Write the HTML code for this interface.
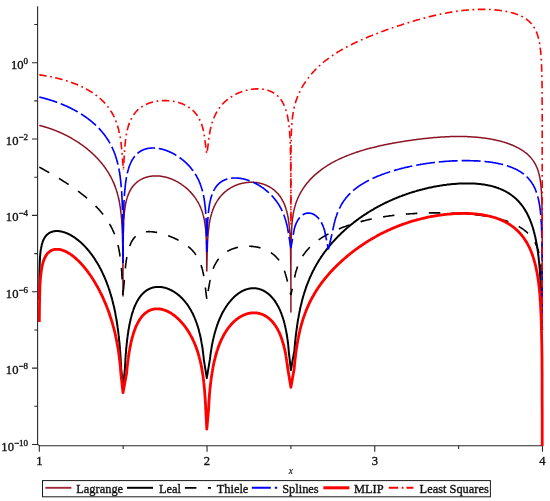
<!DOCTYPE html>
<html><head><meta charset="utf-8"><title>Error plot</title>
<style>html,body{margin:0;padding:0;background:#fff;}body{width:550px;height:501px;overflow:hidden;}svg{display:block;}</style>
</head><body>
<svg width="550" height="501" viewBox="0 0 550 501">
<rect width="550" height="501" fill="#fff"/>
<path d="M37.6 6.3V444.50L39.30 445.7H542.79" fill="none" stroke="#2a2a2a" stroke-width="1.1"/>
<path d="M32.00 444.50H37.6M34.30 406.32H37.6M32.00 368.14H37.6M34.30 329.96H37.6M32.00 291.78H37.6M34.30 253.60H37.6M32.00 215.42H37.6M34.30 177.24H37.6M32.00 139.06H37.6M34.30 100.88H37.6M32.00 62.70H37.6M34.30 24.52H37.6M39.30 445.7v6M207.03 445.7v6M374.76 445.7v6M542.49 445.7v6M123.16 445.7v3.2M290.89 445.7v3.2M458.62 445.7v3.2" fill="none" stroke="#2a2a2a" stroke-width="1.1"/>
<text x="28" y="450.5" text-anchor="end" font-family="Liberation Serif, Times New Roman, serif" stroke="#111" stroke-width="0.35" font-size="12.6" fill="#111">10<tspan font-size="9" dy="-5">−10</tspan></text>
<text x="28" y="374.1" text-anchor="end" font-family="Liberation Serif, Times New Roman, serif" stroke="#111" stroke-width="0.35" font-size="12.6" fill="#111">10<tspan font-size="9" dy="-5">−8</tspan></text>
<text x="28" y="297.8" text-anchor="end" font-family="Liberation Serif, Times New Roman, serif" stroke="#111" stroke-width="0.35" font-size="12.6" fill="#111">10<tspan font-size="9" dy="-5">−6</tspan></text>
<text x="28" y="221.4" text-anchor="end" font-family="Liberation Serif, Times New Roman, serif" stroke="#111" stroke-width="0.35" font-size="12.6" fill="#111">10<tspan font-size="9" dy="-5">−4</tspan></text>
<text x="28" y="145.1" text-anchor="end" font-family="Liberation Serif, Times New Roman, serif" stroke="#111" stroke-width="0.35" font-size="12.6" fill="#111">10<tspan font-size="9" dy="-5">−2</tspan></text>
<text x="28" y="68.7" text-anchor="end" font-family="Liberation Serif, Times New Roman, serif" stroke="#111" stroke-width="0.35" font-size="12.6" fill="#111">10<tspan font-size="9" dy="-5">0</tspan></text>
<text x="39.3" y="465" text-anchor="middle" font-family="Liberation Serif, Times New Roman, serif" stroke="#111" stroke-width="0.35" font-size="12.6" fill="#111">1</text>
<text x="207.0" y="465" text-anchor="middle" font-family="Liberation Serif, Times New Roman, serif" stroke="#111" stroke-width="0.35" font-size="12.6" fill="#111">2</text>
<text x="374.8" y="465" text-anchor="middle" font-family="Liberation Serif, Times New Roman, serif" stroke="#111" stroke-width="0.35" font-size="12.6" fill="#111">3</text>
<text x="542.5" y="465" text-anchor="middle" font-family="Liberation Serif, Times New Roman, serif" stroke="#111" stroke-width="0.35" font-size="12.6" fill="#111">4</text>
<text x="290.9" y="474.2" text-anchor="middle" font-family="Liberation Serif, Times New Roman, serif" stroke="#111" stroke-width="0.15" font-size="9.5" font-style="italic" fill="#111">x</text>
<path d="M39.3 125.4L39.5 125.4L39.6 125.5L39.8 125.5L40.0 125.5L40.2 125.6L40.4 125.6L40.5 125.7L40.7 125.7L40.9 125.8L41.1 125.8L41.3 125.9L41.5 125.9L41.7 126.0L41.9 126.1L42.1 126.1L42.4 126.2L42.6 126.3L42.9 126.3L43.2 126.4L43.4 126.5L43.7 126.6L44.0 126.7L44.2 126.7L44.3 126.7L44.5 126.8L44.7 126.8L44.8 126.9L45.0 126.9L45.2 127.0L45.3 127.0L45.5 127.1L45.7 127.1L45.8 127.2L46.0 127.2L46.2 127.3L46.4 127.4L46.6 127.4L46.8 127.5L46.9 127.5L47.1 127.6L47.3 127.7L47.5 127.7L47.7 127.8L47.9 127.8L48.1 127.9L48.3 128.0L48.5 128.0L48.7 128.1L49.0 128.2L49.2 128.3L49.4 128.3L49.6 128.4L49.8 128.5L50.0 128.6L50.2 128.6L50.5 128.7L50.7 128.8L50.9 128.9L51.2 128.9L51.4 129.0L51.6 129.1L51.9 129.2L52.1 129.3L52.3 129.4L52.6 129.5L52.8 129.5L53.0 129.6L53.3 129.7L53.5 129.8L53.8 129.9L54.0 130.0L54.3 130.1L54.5 130.2L54.8 130.3L55.1 130.4L55.3 130.5L55.6 130.6L55.8 130.7L56.1 130.8L56.4 130.9L56.6 131.0L56.9 131.1L57.2 131.3L57.4 131.4L57.7 131.5L58.0 131.6L58.3 131.7L58.5 131.8L58.8 131.9L59.1 132.1L59.4 132.2L59.7 132.3L59.9 132.4L60.2 132.6L60.5 132.7L60.8 132.8L61.1 132.9L61.4 133.1L61.7 133.2L62.0 133.3L62.3 133.5L62.5 133.6L62.8 133.8L63.1 133.9L63.4 134.0L63.7 134.2L64.0 134.3L64.3 134.5L64.6 134.6L64.9 134.8L65.2 134.9L65.6 135.1L65.9 135.2L66.2 135.4L66.5 135.5L66.8 135.7L67.1 135.9L67.4 136.0L67.7 136.2L68.0 136.3L68.3 136.5L68.7 136.7L69.0 136.9L69.3 137.0L69.6 137.2L69.9 137.4L70.2 137.5L70.6 137.7L70.9 137.9L71.2 138.1L71.5 138.3L71.8 138.4L72.2 138.6L72.5 138.8L72.8 139.0L73.1 139.2L73.5 139.4L73.8 139.6L74.1 139.8L74.4 140.0L74.7 140.2L75.1 140.4L75.4 140.6L75.7 140.8L76.1 141.0L76.4 141.2L76.7 141.4L77.0 141.6L77.4 141.8L77.7 142.0L78.0 142.3L78.4 142.5L78.7 142.7L79.0 142.9L79.3 143.1L79.7 143.4L80.0 143.6L80.3 143.8L80.7 144.0L81.0 144.3L81.3 144.5L81.6 144.7L82.0 145.0L82.3 145.2L82.6 145.4L83.0 145.7L83.3 145.9L83.6 146.2L83.9 146.4L84.3 146.7L84.6 146.9L84.9 147.2L85.3 147.4L85.6 147.7L85.9 147.9L86.2 148.2L86.6 148.4L86.9 148.7L87.2 149.0L87.6 149.2L87.9 149.5L88.2 149.8L88.5 150.0L88.8 150.3L89.2 150.6L89.5 150.9L89.8 151.1L90.1 151.4L90.5 151.7L90.8 152.0L91.1 152.3L91.4 152.6L91.7 152.8L92.1 153.1L92.4 153.4L92.7 153.7L93.0 154.0L93.3 154.3L93.6 154.6L94.0 154.9L94.3 155.2L94.6 155.5L94.9 155.8L95.2 156.1L95.5 156.4L95.8 156.8L96.1 157.1L96.4 157.4L96.7 157.7L97.1 158.0L97.4 158.3L97.7 158.7L98.0 159.0L98.3 159.3L98.6 159.7L98.9 160.0L99.2 160.3L99.5 160.7L99.8 161.0L100.0 161.3L100.3 161.7L100.6 162.0L100.9 162.4L101.2 162.7L101.5 163.1L101.8 163.4L102.1 163.8L102.4 164.1L102.6 164.5L102.9 164.8L103.2 165.2L103.5 165.5L103.8 165.9L104.0 166.3L104.3 166.7L104.6 167.0L104.9 167.4L105.1 167.8L105.4 168.2L105.7 168.5L105.9 168.9L106.2 169.3L106.5 169.7L106.7 170.1L107.0 170.5L107.2 170.9L107.5 171.3L107.8 171.7L108.0 172.1L108.3 172.5L108.5 172.9L108.8 173.3L109.0 173.7L109.3 174.1L109.5 174.6L109.7 175.0L110.0 175.4L110.2 175.8L110.4 176.3L110.7 176.7L110.9 177.1L111.1 177.6L111.4 178.0L111.6 178.5L111.8 178.9L112.1 179.4L112.3 179.8L112.5 180.3L112.7 180.7L112.9 181.2L113.1 181.7L113.3 182.2L113.6 182.6L113.8 183.1L114.0 183.6L114.2 184.1L114.4 184.6L114.6 185.1L114.8 185.6L115.0 186.1L115.2 186.6L115.4 187.1L115.5 187.7L115.7 188.2L115.9 188.7L116.1 189.3L116.3 189.8L116.5 190.4L116.6 190.9L116.8 191.5L117.0 192.1L117.1 192.6L117.3 193.2L117.5 193.8L117.6 194.4L117.8 195.0L118.0 195.6L118.1 196.2L118.3 196.9L118.4 197.5L118.6 198.1L118.7 198.8L118.9 199.5L119.0 200.1L119.1 200.8L119.3 201.5L119.4 202.2L119.5 202.9L119.7 203.6L119.8 204.4L119.9 205.1L120.0 205.9L120.2 206.7L120.3 207.5L120.4 208.3L120.5 209.1L120.6 210.0L120.7 210.8L120.8 211.7L120.9 212.6L121.0 213.5L121.1 214.4L121.2 215.4L121.3 216.4L121.4 217.4L121.5 218.4L121.6 219.5L121.7 220.6L121.8 221.7L121.8 222.9L121.9 224.1L122.0 225.3L122.1 226.6L122.1 228.0L122.2 229.3L122.3 230.8L122.3 232.3L122.4 233.8L122.4 235.4L122.5 237.1L122.5 238.9L122.6 240.8L122.6 242.8L122.7 244.9L122.7 247.1L122.7 249.5L122.8 252.1L122.8 254.9L122.8 257.9L122.9 261.2L122.9 264.8L122.9 268.9L122.9 273.5L123.0 296.0L123.0 277.9L123.0 270.0L123.0 263.9L123.0 259.0L123.1 254.8L123.1 251.1L123.1 247.9L123.1 245.0L123.2 242.4L123.2 240.0L123.2 237.9L123.3 235.8L123.3 234.0L123.3 232.2L123.4 230.5L123.4 229.0L123.5 227.5L123.5 226.1L123.6 224.8L123.6 223.5L123.7 222.3L123.7 221.1L123.8 220.0L123.9 219.0L123.9 217.9L124.0 217.0L124.1 216.0L124.2 215.1L124.2 214.2L124.3 213.3L124.4 212.5L124.5 211.7L124.6 210.9L124.7 210.1L124.8 209.4L124.9 208.7L125.0 208.0L125.1 207.3L125.2 206.6L125.3 206.0L125.4 205.3L125.5 204.7L125.6 204.1L125.7 203.5L125.8 202.9L126.0 202.4L126.1 201.8L126.2 201.3L126.3 200.7L126.5 200.2L126.6 199.7L126.7 199.2L126.9 198.7L127.0 198.2L127.1 197.8L127.3 197.3L127.4 196.9L127.6 196.4L127.7 196.0L127.9 195.6L128.1 195.1L128.2 194.7L128.4 194.3L128.5 193.9L128.7 193.5L128.9 193.1L129.0 192.8L129.2 192.4L129.4 192.0L129.6 191.7L129.7 191.3L129.9 191.0L130.1 190.6L130.3 190.3L130.5 190.0L130.7 189.6L130.8 189.3L131.0 189.0L131.2 188.7L131.4 188.4L131.6 188.1L131.8 187.8L132.0 187.5L132.2 187.2L132.5 186.9L132.7 186.6L132.9 186.4L133.1 186.1L133.3 185.8L133.5 185.6L133.7 185.3L134.0 185.1L134.2 184.8L134.4 184.6L134.6 184.3L134.9 184.1L135.1 183.9L135.3 183.6L135.6 183.4L135.8 183.2L136.0 183.0L136.3 182.8L136.5 182.6L136.8 182.3L137.0 182.1L137.3 181.9L137.5 181.8L137.8 181.6L138.0 181.4L138.3 181.2L138.5 181.0L138.8 180.8L139.0 180.7L139.3 180.5L139.6 180.3L139.8 180.2L140.1 180.0L140.4 179.8L140.6 179.7L140.9 179.5L141.2 179.4L141.4 179.2L141.7 179.1L142.0 179.0L142.3 178.8L142.5 178.7L142.8 178.6L143.1 178.4L143.4 178.3L143.7 178.2L143.9 178.1L144.2 178.0L144.5 177.9L144.8 177.7L145.1 177.6L145.4 177.5L145.7 177.4L146.0 177.3L146.3 177.3L146.6 177.2L146.9 177.1L147.2 177.0L147.5 176.9L147.8 176.8L148.1 176.8L148.4 176.7L148.7 176.6L149.0 176.6L149.3 176.5L149.6 176.4L149.9 176.4L150.2 176.3L150.5 176.3L150.8 176.2L151.1 176.2L151.5 176.2L151.8 176.1L152.1 176.1L152.4 176.1L152.7 176.0L153.0 176.0L153.3 176.0L153.7 176.0L154.0 175.9L154.3 175.9L154.6 175.9L154.9 175.9L155.3 175.9L155.6 175.9L155.9 175.9L156.2 175.9L156.5 175.9L156.9 175.9L157.2 175.9L157.5 175.9L157.8 175.9L158.2 176.0L158.5 176.0L158.8 176.0L159.1 176.0L159.5 176.1L159.8 176.1L160.1 176.1L160.5 176.2L160.8 176.2L161.1 176.3L161.4 176.3L161.8 176.4L162.1 176.4L162.4 176.5L162.8 176.5L163.1 176.6L163.4 176.7L163.7 176.7L164.1 176.8L164.4 176.9L164.7 176.9L165.1 177.0L165.4 177.1L165.7 177.2L166.1 177.3L166.4 177.3L166.7 177.4L167.0 177.5L167.4 177.6L167.7 177.7L168.0 177.8L168.4 177.9L168.7 178.0L169.0 178.1L169.3 178.3L169.7 178.4L170.0 178.5L170.3 178.6L170.7 178.7L171.0 178.9L171.3 179.0L171.6 179.1L172.0 179.2L172.3 179.4L172.6 179.5L172.9 179.7L173.3 179.8L173.6 179.9L173.9 180.1L174.2 180.2L174.5 180.4L174.9 180.5L175.2 180.7L175.5 180.9L175.8 181.0L176.1 181.2L176.5 181.4L176.8 181.5L177.1 181.7L177.4 181.9L177.7 182.0L178.0 182.2L178.3 182.4L178.7 182.6L179.0 182.8L179.3 183.0L179.6 183.2L179.9 183.3L180.2 183.5L180.5 183.7L180.8 183.9L181.1 184.1L181.4 184.3L181.7 184.6L182.0 184.8L182.3 185.0L182.6 185.2L182.9 185.4L183.2 185.6L183.5 185.8L183.8 186.1L184.1 186.3L184.4 186.5L184.7 186.7L185.0 187.0L185.3 187.2L185.6 187.5L185.8 187.7L186.1 187.9L186.4 188.2L186.7 188.4L187.0 188.7L187.3 188.9L187.5 189.2L187.8 189.4L188.1 189.7L188.4 189.9L188.6 190.2L188.9 190.5L189.2 190.7L189.4 191.0L189.7 191.3L190.0 191.5L190.2 191.8L190.5 192.1L190.8 192.4L191.0 192.6L191.3 192.9L191.5 193.2L191.8 193.5L192.0 193.8L192.3 194.1L192.5 194.4L192.8 194.7L193.0 195.0L193.3 195.3L193.5 195.6L193.8 195.9L194.0 196.2L194.2 196.5L194.5 196.8L194.7 197.1L194.9 197.4L195.2 197.8L195.4 198.1L195.6 198.4L195.8 198.7L196.1 199.1L196.3 199.4L196.5 199.7L196.7 200.1L196.9 200.4L197.1 200.8L197.3 201.1L197.6 201.5L197.8 201.8L198.0 202.2L198.2 202.5L198.4 202.9L198.6 203.3L198.8 203.6L199.0 204.0L199.1 204.4L199.3 204.8L199.5 205.1L199.7 205.5L199.9 205.9L200.1 206.3L200.2 206.7L200.4 207.1L200.6 207.5L200.8 207.9L200.9 208.3L201.1 208.8L201.3 209.2L201.4 209.6L201.6 210.0L201.7 210.5L201.9 210.9L202.1 211.4L202.2 211.8L202.4 212.3L202.5 212.8L202.7 213.2L202.8 213.7L202.9 214.2L203.1 214.7L203.2 215.2L203.3 215.7L203.5 216.2L203.6 216.7L203.7 217.3L203.8 217.8L204.0 218.3L204.1 218.9L204.2 219.5L204.3 220.1L204.4 220.6L204.5 221.3L204.6 221.9L204.7 222.5L204.8 223.1L204.9 223.8L205.0 224.5L205.1 225.2L205.2 225.9L205.3 226.6L205.4 227.3L205.5 228.1L205.6 228.9L205.6 229.7L205.7 230.5L205.8 231.4L205.9 232.3L205.9 233.2L206.0 234.1L206.1 235.1L206.1 236.1L206.2 237.2L206.2 238.3L206.3 239.5L206.3 240.7L206.4 242.0L206.4 243.4L206.5 244.8L206.5 246.4L206.5 248.0L206.6 249.7L206.6 251.6L206.8 271.0L207.2 251.8L207.3 250.2L207.3 248.6L207.4 247.1L207.4 245.6L207.5 244.2L207.5 242.9L207.6 241.6L207.7 240.4L207.7 239.2L207.8 238.1L207.9 237.0L208.0 236.0L208.0 234.9L208.1 233.9L208.2 233.0L208.3 232.0L208.4 231.1L208.5 230.3L208.6 229.4L208.7 228.6L208.8 227.8L208.9 227.0L209.0 226.2L209.1 225.4L209.2 224.7L209.3 224.0L209.4 223.3L209.5 222.6L209.6 221.9L209.8 221.2L209.9 220.6L210.0 220.0L210.1 219.3L210.3 218.7L210.4 218.1L210.5 217.5L210.7 216.9L210.8 216.4L211.0 215.8L211.1 215.3L211.3 214.7L211.4 214.2L211.6 213.7L211.7 213.2L211.9 212.6L212.0 212.2L212.2 211.7L212.4 211.2L212.5 210.7L212.7 210.2L212.9 209.8L213.0 209.3L213.2 208.9L213.4 208.4L213.6 208.0L213.7 207.6L213.9 207.1L214.1 206.7L214.3 206.3L214.5 205.9L214.7 205.5L214.9 205.1L215.1 204.7L215.3 204.3L215.5 203.9L215.7 203.5L215.9 203.2L216.1 202.8L216.3 202.4L216.5 202.1L216.7 201.7L216.9 201.4L217.1 201.0L217.4 200.7L217.6 200.4L217.8 200.0L218.0 199.7L218.3 199.4L218.5 199.0L218.7 198.7L218.9 198.4L219.2 198.1L219.4 197.8L219.6 197.5L219.9 197.2L220.1 196.9L220.4 196.6L220.6 196.3L220.9 196.0L221.1 195.7L221.4 195.5L221.6 195.2L221.9 194.9L222.1 194.7L222.4 194.4L222.6 194.1L222.9 193.9L223.2 193.6L223.4 193.4L223.7 193.1L223.9 192.9L224.2 192.6L224.5 192.4L224.8 192.1L225.0 191.9L225.3 191.7L225.6 191.5L225.9 191.2L226.1 191.0L226.4 190.8L226.7 190.6L227.0 190.4L227.3 190.1L227.5 189.9L227.8 189.7L228.1 189.5L228.4 189.3L228.7 189.1L229.0 188.9L229.3 188.8L229.6 188.6L229.9 188.4L230.2 188.2L230.5 188.0L230.8 187.8L231.1 187.7L231.4 187.5L231.7 187.3L232.0 187.2L232.3 187.0L232.6 186.9L232.9 186.7L233.2 186.5L233.5 186.4L233.8 186.2L234.1 186.1L234.4 186.0L234.7 185.8L235.0 185.7L235.4 185.5L235.7 185.4L236.0 185.3L236.3 185.1L236.6 185.0L236.9 184.9L237.2 184.8L237.6 184.7L237.9 184.6L238.2 184.4L238.5 184.3L238.8 184.2L239.2 184.1L239.5 184.0L239.8 183.9L240.1 183.8L240.5 183.7L240.8 183.7L241.1 183.6L241.4 183.5L241.8 183.4L242.1 183.3L242.4 183.3L242.7 183.2L243.1 183.1L243.4 183.0L243.7 183.0L244.1 182.9L244.4 182.9L244.7 182.8L245.0 182.8L245.4 182.7L245.7 182.7L246.0 182.6L246.4 182.6L246.7 182.5L247.0 182.5L247.4 182.5L247.7 182.4L248.0 182.4L248.4 182.4L248.7 182.3L249.0 182.3L249.3 182.3L249.7 182.3L250.0 182.3L250.3 182.3L250.7 182.3L251.0 182.3L251.3 182.3L251.7 182.3L252.0 182.3L252.3 182.3L252.7 182.3L253.0 182.3L253.3 182.3L253.6 182.3L254.0 182.3L254.3 182.4L254.6 182.4L255.0 182.4L255.3 182.4L255.6 182.5L255.9 182.5L256.3 182.6L256.6 182.6L256.9 182.6L257.2 182.7L257.6 182.7L257.9 182.8L258.2 182.8L258.5 182.9L258.9 183.0L259.2 183.0L259.5 183.1L259.8 183.2L260.1 183.2L260.5 183.3L260.8 183.4L261.1 183.5L261.4 183.6L261.7 183.7L262.0 183.7L262.3 183.8L262.7 183.9L263.0 184.0L263.3 184.1L263.6 184.2L263.9 184.3L264.2 184.5L264.5 184.6L264.8 184.7L265.1 184.8L265.4 184.9L265.7 185.0L266.0 185.2L266.3 185.3L266.6 185.4L266.9 185.6L267.2 185.7L267.5 185.9L267.8 186.0L268.1 186.1L268.4 186.3L268.7 186.5L269.0 186.6L269.3 186.8L269.6 186.9L269.9 187.1L270.2 187.3L270.4 187.4L270.7 187.6L271.0 187.8L271.3 188.0L271.6 188.2L271.8 188.3L272.1 188.5L272.4 188.7L272.7 188.9L272.9 189.1L273.2 189.3L273.5 189.5L273.8 189.8L274.0 190.0L274.3 190.2L274.5 190.4L274.8 190.6L275.1 190.9L275.3 191.1L275.6 191.3L275.8 191.6L276.1 191.8L276.3 192.1L276.6 192.3L276.8 192.6L277.1 192.8L277.3 193.1L277.6 193.3L277.8 193.6L278.1 193.9L278.3 194.1L278.5 194.4L278.8 194.7L279.0 195.0L279.2 195.3L279.4 195.6L279.7 195.9L279.9 196.2L280.1 196.5L280.3 196.8L280.6 197.1L280.8 197.4L281.0 197.8L281.2 198.1L281.4 198.4L281.6 198.8L281.8 199.1L282.0 199.5L282.2 199.8L282.4 200.2L282.6 200.6L282.8 200.9L283.0 201.3L283.2 201.7L283.4 202.1L283.6 202.5L283.8 202.9L284.0 203.3L284.1 203.7L284.3 204.1L284.5 204.5L284.7 205.0L284.8 205.4L285.0 205.9L285.2 206.3L285.3 206.8L285.5 207.2L285.7 207.7L285.8 208.2L286.0 208.7L286.1 209.2L286.3 209.7L286.4 210.2L286.6 210.8L286.7 211.3L286.9 211.8L287.0 212.4L287.2 213.0L287.3 213.5L287.4 214.1L287.6 214.7L287.7 215.4L287.8 216.0L287.9 216.6L288.1 217.3L288.2 218.0L288.3 218.6L288.4 219.3L288.5 220.1L288.6 220.8L288.7 221.6L288.8 222.3L288.9 223.1L289.0 223.9L289.1 224.8L289.2 225.6L289.3 226.5L289.4 227.4L289.5 228.3L289.6 229.3L289.7 230.3L289.7 231.3L289.8 232.4L289.9 233.5L290.0 234.6L290.0 235.8L290.1 237.0L290.2 238.3L290.2 239.7L290.3 241.1L290.3 242.5L290.4 244.0L290.4 245.7L290.5 247.4L290.5 249.1L290.6 251.0L290.6 253.1L290.6 255.2L290.7 257.6L290.7 260.1L290.7 262.8L290.8 265.8L290.8 269.1L290.8 272.8L290.8 277.0L290.9 281.8L290.9 287.6L290.9 312.0L290.9 289.8L290.9 273.7L290.9 264.3L291.0 257.6L291.0 252.4L291.0 248.1L291.1 244.5L291.1 241.4L291.2 238.6L291.3 236.1L291.4 233.8L291.5 231.8L291.6 229.8L291.7 228.0L291.8 226.4L291.9 224.8L292.0 223.3L292.2 221.9L292.3 220.5L292.5 219.2L292.6 218.0L292.8 216.8L293.0 215.6L293.1 214.5L293.3 213.4L293.5 212.4L293.7 211.4L293.9 210.4L294.2 209.4L294.4 208.5L294.6 207.6L294.9 206.7L295.1 205.8L295.4 204.9L295.6 204.1L295.9 203.2L296.2 202.4L296.5 201.6L296.8 200.8L297.1 200.1L297.4 199.3L297.7 198.5L298.0 197.8L298.4 197.0L298.7 196.3L299.1 195.6L299.4 194.9L299.8 194.2L300.1 193.5L300.5 192.8L300.9 192.1L301.3 191.4L301.7 190.8L302.1 190.1L302.5 189.5L302.9 188.8L303.3 188.2L303.8 187.5L304.2 186.9L304.7 186.3L305.1 185.7L305.6 185.0L306.0 184.4L306.5 183.8L307.0 183.2L307.5 182.6L308.0 182.1L308.5 181.5L309.0 180.9L309.5 180.3L310.0 179.7L310.6 179.2L311.1 178.6L311.6 178.1L312.2 177.5L312.7 177.0L313.3 176.4L313.9 175.9L314.4 175.4L315.0 174.8L315.6 174.3L316.2 173.8L316.8 173.3L317.4 172.8L318.0 172.3L318.6 171.8L319.2 171.3L319.9 170.8L320.5 170.3L321.1 169.8L321.8 169.3L322.4 168.9L323.1 168.4L323.8 167.9L324.4 167.5L325.1 167.0L325.8 166.6L326.5 166.1L327.2 165.7L327.9 165.2L328.6 164.8L329.3 164.4L330.0 163.9L330.7 163.5L331.4 163.1L332.2 162.7L332.9 162.3L333.7 161.9L334.4 161.5L335.2 161.1L335.9 160.7L336.7 160.3L337.4 159.9L338.2 159.6L339.0 159.2L339.8 158.8L340.6 158.5L341.3 158.1L342.1 157.8L342.9 157.4L343.7 157.1L344.5 156.7L345.4 156.4L346.2 156.0L347.0 155.7L347.8 155.4L348.7 155.1L349.5 154.7L350.3 154.4L351.2 154.1L352.0 153.8L352.9 153.5L353.7 153.2L354.6 152.9L355.4 152.6L356.3 152.3L357.2 152.0L358.1 151.7L358.9 151.5L359.8 151.2L360.7 150.9L361.6 150.6L362.5 150.4L363.4 150.1L364.3 149.8L365.2 149.6L366.1 149.3L367.0 149.1L367.9 148.8L368.8 148.6L369.7 148.3L370.6 148.1L371.6 147.9L372.5 147.6L373.4 147.4L374.4 147.2L375.3 146.9L376.2 146.7L377.2 146.5L378.1 146.3L379.0 146.1L380.0 145.8L380.9 145.6L381.9 145.4L382.8 145.2L383.8 145.0L384.7 144.8L385.7 144.6L386.7 144.4L387.6 144.2L388.6 144.0L389.6 143.8L390.5 143.7L391.5 143.5L392.5 143.3L393.4 143.1L394.4 142.9L395.4 142.7L396.4 142.6L397.3 142.4L398.3 142.2L399.3 142.1L400.3 141.9L401.3 141.7L402.2 141.6L403.2 141.4L404.2 141.3L405.2 141.1L406.2 141.0L407.2 140.8L408.1 140.7L409.1 140.5L410.1 140.4L411.1 140.2L412.1 140.1L413.1 139.9L414.1 139.8L415.1 139.7L416.1 139.6L417.0 139.4L418.0 139.3L419.0 139.2L420.0 139.1L421.0 138.9L422.0 138.8L423.0 138.7L424.0 138.6L425.0 138.5L425.9 138.4L426.9 138.3L427.9 138.2L428.9 138.1L429.9 138.0L430.9 137.9L431.8 137.8L432.8 137.7L433.8 137.6L434.8 137.6L435.8 137.5L436.7 137.4L437.7 137.3L438.7 137.3L439.7 137.2L440.6 137.1L441.6 137.1L442.6 137.0L443.5 136.9L444.5 136.9L445.5 136.8L446.4 136.8L447.4 136.8L448.4 136.7L449.3 136.7L450.3 136.6L451.2 136.6L452.2 136.6L453.1 136.6L454.1 136.5L455.0 136.5L455.9 136.5L456.9 136.5L457.8 136.5L458.7 136.5L459.7 136.5L460.6 136.5L461.5 136.5L462.5 136.5L463.4 136.5L464.3 136.6L465.2 136.6L466.1 136.6L467.0 136.6L467.9 136.7L468.8 136.7L469.7 136.8L470.6 136.8L471.5 136.9L472.4 136.9L473.3 137.0L474.2 137.0L475.0 137.1L475.9 137.2L476.8 137.2L477.7 137.3L478.5 137.4L479.4 137.5L480.2 137.6L481.1 137.7L481.9 137.8L482.8 137.9L483.6 138.0L484.4 138.1L485.3 138.2L486.1 138.3L486.9 138.4L487.7 138.5L488.6 138.7L489.4 138.8L490.2 138.9L491.0 139.1L491.8 139.2L492.5 139.4L493.3 139.5L494.1 139.7L494.9 139.9L495.7 140.0L496.4 140.2L497.2 140.4L497.9 140.5L498.7 140.7L499.4 140.9L500.2 141.1L500.9 141.3L501.7 141.5L502.4 141.7L503.1 141.9L503.8 142.1L504.5 142.3L505.2 142.6L505.9 142.8L506.6 143.0L507.3 143.2L508.0 143.5L508.7 143.7L509.3 144.0L510.0 144.2L510.7 144.5L511.3 144.7L512.0 145.0L512.6 145.3L513.2 145.5L513.9 145.8L514.5 146.1L515.1 146.4L515.7 146.7L516.3 147.0L516.9 147.3L517.5 147.6L518.1 147.9L518.7 148.2L519.2 148.5L519.8 148.8L520.4 149.2L520.9 149.5L521.5 149.8L522.0 150.2L522.5 150.5L523.1 150.9L523.6 151.2L524.1 151.6L524.6 152.0L525.1 152.4L525.6 152.7L526.1 153.1L526.6 153.5L527.1 153.9L527.5 154.3L528.0 154.8L528.4 155.2L528.9 155.6L529.3 156.1L529.8 156.5L530.2 157.0L530.6 157.4L531.0 157.9L531.4 158.4L531.8 158.9L532.2 159.4L532.6 159.9L533.0 160.4L533.3 160.9L533.7 161.4L534.0 162.0L534.4 162.6L534.7 163.1L535.1 163.7L535.4 164.3L535.7 164.9L536.0 165.6L536.3 166.2L536.6 166.9L536.9 167.5L537.2 168.2L537.5 168.9L537.7 169.7L538.0 170.4L538.2 171.2L538.5 172.0L538.7 172.8L538.9 173.7L539.2 174.6L539.4 175.5L539.6 176.5L539.8 177.4L540.0 178.5L540.1 179.5L540.3 180.6L540.5 181.8L540.6 183.0L540.8 184.3L540.9 185.7L541.1 187.1L541.2 188.6L541.3 190.2L541.4 192.0L541.5 193.8L541.6 195.8L541.7 198.0L541.8 200.3L541.9 203.0L542.0 205.9L542.0 209.2L542.1 213.1L542.1 217.6L542.1 223.2L542.2 230.3L542.2 240.4L542.2 257.6L542.2 303.2L542.2 330.0" fill="none" stroke="#8a1424" stroke-width="1.5" stroke-linejoin="round"/>
<path d="M39.3 300.0L39.4 280.3L39.4 277.8L39.4 275.5L39.5 273.5L39.5 271.7L39.5 270.0L39.6 268.4L39.6 266.9L39.6 265.6L39.7 264.3L39.7 263.1L39.8 261.9L39.8 260.8L39.9 259.8L39.9 258.9L40.0 257.9L40.0 257.0L40.1 256.2L40.2 255.4L40.2 254.6L40.3 253.8L40.4 253.1L40.5 252.4L40.5 251.7L40.6 251.1L40.7 250.5L40.8 249.9L40.9 249.3L41.0 248.7L41.1 248.2L41.2 247.6L41.3 247.1L41.4 246.6L41.5 246.1L41.6 245.6L41.7 245.2L41.8 244.7L41.9 244.3L42.0 243.9L42.1 243.5L42.3 243.1L42.4 242.7L42.5 242.3L42.6 241.9L42.8 241.6L42.9 241.2L43.0 240.9L43.2 240.5L43.3 240.2L43.4 239.9L43.6 239.6L43.7 239.3L43.9 239.0L44.0 238.7L44.2 238.4L44.3 238.1L44.5 237.9L44.7 237.6L44.8 237.4L45.0 237.1L45.2 236.9L45.3 236.6L45.5 236.4L45.7 236.2L45.8 236.0L46.0 235.7L46.2 235.5L46.4 235.3L46.6 235.1L46.8 235.0L46.9 234.8L47.1 234.6L47.3 234.4L47.5 234.2L47.7 234.1L47.9 233.9L48.1 233.8L48.3 233.6L48.5 233.5L48.7 233.3L49.0 233.2L49.2 233.1L49.4 232.9L49.6 232.8L49.8 232.7L50.0 232.6L50.2 232.5L50.5 232.4L50.7 232.3L50.9 232.2L51.2 232.1L51.4 232.0L51.6 231.9L51.9 231.8L52.1 231.7L52.3 231.7L52.6 231.6L52.8 231.5L53.0 231.5L53.3 231.4L53.5 231.4L53.8 231.3L54.0 231.3L54.3 231.2L54.5 231.2L54.8 231.2L55.1 231.1L55.3 231.1L55.6 231.1L55.8 231.1L56.1 231.1L56.4 231.1L56.6 231.1L56.9 231.1L57.2 231.1L57.4 231.1L57.7 231.1L58.0 231.1L58.3 231.1L58.5 231.1L58.8 231.1L59.1 231.2L59.4 231.2L59.7 231.2L59.9 231.3L60.2 231.3L60.5 231.4L60.8 231.4L61.1 231.5L61.4 231.5L61.7 231.6L62.0 231.7L62.3 231.7L62.5 231.8L62.8 231.9L63.1 232.0L63.4 232.1L63.7 232.2L64.0 232.2L64.3 232.3L64.6 232.4L64.9 232.5L65.2 232.7L65.6 232.8L65.9 232.9L66.2 233.0L66.5 233.1L66.8 233.2L67.1 233.4L67.4 233.5L67.7 233.7L68.0 233.8L68.3 233.9L68.7 234.1L69.0 234.2L69.3 234.4L69.6 234.6L69.9 234.7L70.2 234.9L70.6 235.1L70.9 235.2L71.2 235.4L71.5 235.6L71.8 235.8L72.2 236.0L72.5 236.2L72.8 236.4L73.1 236.6L73.5 236.8L73.8 237.0L74.1 237.2L74.4 237.4L74.7 237.7L75.1 237.9L75.4 238.1L75.7 238.3L76.1 238.6L76.4 238.8L76.7 239.1L77.0 239.3L77.4 239.6L77.7 239.8L78.0 240.1L78.4 240.4L78.7 240.6L79.0 240.9L79.3 241.2L79.7 241.5L80.0 241.7L80.3 242.0L80.7 242.3L81.0 242.6L81.3 242.9L81.6 243.2L82.0 243.5L82.3 243.8L82.6 244.2L83.0 244.5L83.3 244.8L83.6 245.1L83.9 245.5L84.3 245.8L84.6 246.1L84.9 246.5L85.3 246.8L85.6 247.2L85.9 247.5L86.2 247.9L86.6 248.3L86.9 248.6L87.2 249.0L87.6 249.4L87.9 249.8L88.2 250.2L88.5 250.6L88.8 250.9L89.2 251.3L89.5 251.7L89.8 252.2L90.1 252.6L90.5 253.0L90.8 253.4L91.1 253.8L91.4 254.2L91.7 254.7L92.1 255.1L92.4 255.5L92.7 256.0L93.0 256.4L93.3 256.9L93.6 257.4L94.0 257.8L94.3 258.3L94.6 258.7L94.9 259.2L95.2 259.7L95.5 260.2L95.8 260.7L96.1 261.2L96.4 261.7L96.7 262.2L97.1 262.7L97.4 263.2L97.7 263.7L98.0 264.2L98.3 264.7L98.6 265.3L98.9 265.8L99.2 266.3L99.5 266.9L99.8 267.4L100.0 268.0L100.3 268.5L100.6 269.1L100.9 269.6L101.2 270.2L101.5 270.8L101.8 271.4L102.1 272.0L102.4 272.5L102.6 273.1L102.9 273.7L103.2 274.3L103.5 275.0L103.8 275.6L104.0 276.2L104.3 276.8L104.6 277.5L104.9 278.1L105.1 278.7L105.4 279.4L105.7 280.0L105.9 280.7L106.2 281.4L106.5 282.0L106.7 282.7L107.0 283.4L107.2 284.1L107.5 284.8L107.8 285.5L108.0 286.2L108.3 286.9L108.5 287.6L108.8 288.3L109.0 289.1L109.3 289.8L109.5 290.5L109.7 291.3L110.0 292.0L110.2 292.8L110.4 293.6L110.7 294.4L110.9 295.1L111.1 295.9L111.4 296.7L111.6 297.5L111.8 298.4L112.1 299.2L112.3 300.0L112.5 300.9L112.7 301.7L112.9 302.6L113.1 303.4L113.3 304.3L113.6 305.2L113.8 306.1L114.0 307.0L114.2 307.9L114.4 308.8L114.6 309.8L114.8 310.7L115.0 311.7L115.2 312.6L115.4 313.6L115.5 314.6L115.7 315.6L115.9 316.6L116.1 317.6L116.3 318.6L116.5 319.7L116.6 320.8L116.8 321.8L117.0 322.9L117.1 324.0L117.3 325.1L117.5 326.3L117.6 327.4L117.8 328.6L118.0 329.8L118.1 331.0L118.3 332.2L118.4 333.4L118.6 334.7L118.7 335.9L118.9 337.2L119.0 338.6L119.1 339.9L119.3 341.3L119.4 342.6L119.5 344.0L119.7 345.5L119.8 346.9L119.9 348.4L120.0 349.9L120.2 351.5L120.3 353.1L120.4 354.7L120.5 356.3L120.6 358.0L120.7 359.7L120.8 361.5L120.9 363.3L121.0 365.1L121.1 367.0L121.2 368.9L123.0 387.3L124.9 369.1L125.0 367.1L125.1 365.3L125.2 363.5L125.3 361.7L125.4 360.0L125.5 358.3L125.6 356.7L125.7 355.1L125.8 353.6L126.0 352.1L126.1 350.6L126.2 349.1L126.3 347.7L126.5 346.4L126.6 345.0L126.7 343.7L126.9 342.4L127.0 341.2L127.1 340.0L127.3 338.8L127.4 337.6L127.6 336.4L127.7 335.3L127.9 334.2L128.1 333.1L128.2 332.1L128.4 331.0L128.5 330.0L128.7 329.0L128.9 328.0L129.0 327.1L129.2 326.2L129.4 325.2L129.6 324.3L129.7 323.5L129.9 322.6L130.1 321.7L130.3 320.9L130.5 320.1L130.7 319.3L130.8 318.5L131.0 317.7L131.2 317.0L131.4 316.2L131.6 315.5L131.8 314.8L132.0 314.1L132.2 313.4L132.5 312.7L132.7 312.0L132.9 311.4L133.1 310.8L133.3 310.1L133.5 309.5L133.7 308.9L134.0 308.3L134.2 307.7L134.4 307.2L134.6 306.6L134.9 306.1L135.1 305.5L135.3 305.0L135.6 304.5L135.8 304.0L136.0 303.5L136.3 303.0L136.5 302.5L136.8 302.0L137.0 301.6L137.3 301.1L137.5 300.7L137.8 300.2L138.0 299.8L138.3 299.4L138.5 299.0L138.8 298.6L139.0 298.2L139.3 297.8L139.6 297.4L139.8 297.1L140.1 296.7L140.4 296.4L140.6 296.0L140.9 295.7L141.2 295.4L141.4 295.0L141.7 294.7L142.0 294.4L142.3 294.1L142.5 293.8L142.8 293.5L143.1 293.3L143.4 293.0L143.7 292.7L143.9 292.5L144.2 292.2L144.5 292.0L144.8 291.7L145.1 291.5L145.4 291.3L145.7 291.1L146.0 290.8L146.3 290.6L146.6 290.4L146.9 290.2L147.2 290.1L147.5 289.9L147.8 289.7L148.1 289.5L148.4 289.4L148.7 289.2L149.0 289.1L149.3 288.9L149.6 288.8L149.9 288.6L150.2 288.5L150.5 288.4L150.8 288.2L151.1 288.1L151.5 288.0L151.8 287.9L152.1 287.8L152.4 287.7L152.7 287.6L153.0 287.6L153.3 287.5L153.7 287.4L154.0 287.3L154.3 287.3L154.6 287.2L154.9 287.2L155.3 287.1L155.6 287.1L155.9 287.0L156.2 287.0L156.5 287.0L156.9 286.9L157.2 286.9L157.5 286.9L157.8 286.9L158.2 286.9L158.5 286.9L158.8 286.9L159.1 286.9L159.5 286.9L159.8 286.9L160.1 287.0L160.5 287.0L160.8 287.0L161.1 287.1L161.4 287.1L161.8 287.1L162.1 287.2L162.4 287.2L162.8 287.3L163.1 287.4L163.4 287.4L163.7 287.5L164.1 287.6L164.4 287.6L164.7 287.7L165.1 287.8L165.4 287.9L165.7 288.0L166.1 288.1L166.4 288.2L166.7 288.3L167.0 288.4L167.4 288.5L167.7 288.7L168.0 288.8L168.4 288.9L168.7 289.0L169.0 289.2L169.3 289.3L169.7 289.5L170.0 289.6L170.3 289.8L170.7 289.9L171.0 290.1L171.3 290.3L171.6 290.4L172.0 290.6L172.3 290.8L172.6 291.0L172.9 291.1L173.3 291.3L173.6 291.5L173.9 291.7L174.2 291.9L174.5 292.1L174.9 292.3L175.2 292.6L175.5 292.8L175.8 293.0L176.1 293.2L176.5 293.4L176.8 293.7L177.1 293.9L177.4 294.2L177.7 294.4L178.0 294.7L178.3 294.9L178.7 295.2L179.0 295.4L179.3 295.7L179.6 296.0L179.9 296.2L180.2 296.5L180.5 296.8L180.8 297.1L181.1 297.4L181.4 297.7L181.7 298.0L182.0 298.3L182.3 298.6L182.6 298.9L182.9 299.2L183.2 299.5L183.5 299.9L183.8 300.2L184.1 300.5L184.4 300.9L184.7 301.2L185.0 301.6L185.3 301.9L185.6 302.3L185.8 302.6L186.1 303.0L186.4 303.4L186.7 303.8L187.0 304.1L187.3 304.5L187.5 304.9L187.8 305.3L188.1 305.7L188.4 306.1L188.6 306.5L188.9 306.9L189.2 307.4L189.4 307.8L189.7 308.2L190.0 308.7L190.2 309.1L190.5 309.5L190.8 310.0L191.0 310.5L191.3 310.9L191.5 311.4L191.8 311.9L192.0 312.3L192.3 312.8L192.5 313.3L192.8 313.8L193.0 314.3L193.3 314.8L193.5 315.4L193.8 315.9L194.0 316.4L194.2 316.9L194.5 317.5L194.7 318.0L194.9 318.6L195.2 319.2L195.4 319.7L195.6 320.3L195.8 320.9L196.1 321.5L196.3 322.1L196.5 322.7L196.7 323.3L196.9 323.9L197.1 324.6L197.3 325.2L197.6 325.9L197.8 326.5L198.0 327.2L198.2 327.9L198.4 328.6L198.6 329.3L198.8 330.0L199.0 330.7L199.1 331.4L199.3 332.1L199.5 332.9L199.7 333.6L199.9 334.4L200.1 335.2L200.2 336.0L200.4 336.8L200.6 337.6L200.8 338.4L200.9 339.3L201.1 340.1L201.3 341.0L201.4 341.9L201.6 342.8L201.7 343.7L201.9 344.6L202.1 345.6L202.2 346.5L202.4 347.5L202.5 348.5L202.7 349.5L202.8 350.6L202.9 351.6L203.1 352.7L203.2 353.8L203.3 354.9L203.5 356.0L203.6 357.2L203.7 358.4L203.8 359.6L206.8 378.2L209.9 359.4L210.0 358.3L210.1 357.3L210.3 356.2L210.4 355.2L210.5 354.2L210.7 353.2L210.8 352.2L211.0 351.3L211.1 350.3L211.3 349.4L211.4 348.5L211.6 347.6L211.7 346.7L211.9 345.8L212.0 345.0L212.2 344.1L212.4 343.3L212.5 342.4L212.7 341.6L212.9 340.8L213.0 340.0L213.2 339.2L213.4 338.5L213.6 337.7L213.7 336.9L213.9 336.2L214.1 335.5L214.3 334.7L214.5 334.0L214.7 333.3L214.9 332.6L215.1 331.9L215.3 331.2L215.5 330.5L215.7 329.8L215.9 329.2L216.1 328.5L216.3 327.9L216.5 327.2L216.7 326.6L216.9 325.9L217.1 325.3L217.4 324.7L217.6 324.1L217.8 323.5L218.0 322.9L218.3 322.3L218.5 321.7L218.7 321.1L218.9 320.6L219.2 320.0L219.4 319.4L219.6 318.9L219.9 318.3L220.1 317.8L220.4 317.2L220.6 316.7L220.9 316.2L221.1 315.6L221.4 315.1L221.6 314.6L221.9 314.1L222.1 313.6L222.4 313.1L222.6 312.6L222.9 312.1L223.2 311.6L223.4 311.2L223.7 310.7L223.9 310.2L224.2 309.8L224.5 309.3L224.8 308.9L225.0 308.4L225.3 308.0L225.6 307.5L225.9 307.1L226.1 306.7L226.4 306.3L226.7 305.8L227.0 305.4L227.3 305.0L227.5 304.6L227.8 304.2L228.1 303.8L228.4 303.4L228.7 303.1L229.0 302.7L229.3 302.3L229.6 301.9L229.9 301.6L230.2 301.2L230.5 300.9L230.8 300.5L231.1 300.2L231.4 299.8L231.7 299.5L232.0 299.2L232.3 298.8L232.6 298.5L232.9 298.2L233.2 297.9L233.5 297.6L233.8 297.3L234.1 297.0L234.4 296.7L234.7 296.4L235.0 296.1L235.4 295.9L235.7 295.6L236.0 295.3L236.3 295.1L236.6 294.8L236.9 294.6L237.2 294.3L237.6 294.1L237.9 293.8L238.2 293.6L238.5 293.4L238.8 293.1L239.2 292.9L239.5 292.7L239.8 292.5L240.1 292.3L240.5 292.1L240.8 291.9L241.1 291.7L241.4 291.5L241.8 291.4L242.1 291.2L242.4 291.0L242.7 290.8L243.1 290.7L243.4 290.5L243.7 290.4L244.1 290.2L244.4 290.1L244.7 290.0L245.0 289.8L245.4 289.7L245.7 289.6L246.0 289.5L246.4 289.4L246.7 289.3L247.0 289.2L247.4 289.1L247.7 289.0L248.0 288.9L248.4 288.8L248.7 288.7L249.0 288.7L249.3 288.6L249.7 288.5L250.0 288.5L250.3 288.4L250.7 288.4L251.0 288.3L251.3 288.3L251.7 288.3L252.0 288.3L252.3 288.2L252.7 288.2L253.0 288.2L253.3 288.2L253.6 288.2L254.0 288.2L254.3 288.2L254.6 288.2L255.0 288.3L255.3 288.3L255.6 288.3L255.9 288.3L256.3 288.4L256.6 288.4L256.9 288.5L257.2 288.5L257.6 288.6L257.9 288.7L258.2 288.7L258.5 288.8L258.9 288.9L259.2 289.0L259.5 289.1L259.8 289.2L260.1 289.3L260.5 289.4L260.8 289.5L261.1 289.6L261.4 289.7L261.7 289.9L262.0 290.0L262.3 290.1L262.7 290.3L263.0 290.4L263.3 290.6L263.6 290.7L263.9 290.9L264.2 291.1L264.5 291.2L264.8 291.4L265.1 291.6L265.4 291.8L265.7 292.0L266.0 292.2L266.3 292.4L266.6 292.6L266.9 292.8L267.2 293.0L267.5 293.2L267.8 293.5L268.1 293.7L268.4 294.0L268.7 294.2L269.0 294.4L269.3 294.7L269.6 295.0L269.9 295.2L270.2 295.5L270.4 295.8L270.7 296.1L271.0 296.4L271.3 296.6L271.6 296.9L271.8 297.3L272.1 297.6L272.4 297.9L272.7 298.2L272.9 298.5L273.2 298.9L273.5 299.2L273.8 299.5L274.0 299.9L274.3 300.2L274.5 300.6L274.8 301.0L275.1 301.3L275.3 301.7L275.6 302.1L275.8 302.5L276.1 302.9L276.3 303.3L276.6 303.7L276.8 304.1L277.1 304.5L277.3 304.9L277.6 305.4L277.8 305.8L278.1 306.2L278.3 306.7L278.5 307.1L278.8 307.6L279.0 308.1L279.2 308.5L279.4 309.0L279.7 309.5L279.9 310.0L280.1 310.5L280.3 311.0L280.6 311.5L280.8 312.1L281.0 312.6L281.2 313.1L281.4 313.7L281.6 314.2L281.8 314.8L282.0 315.3L282.2 315.9L282.4 316.5L282.6 317.1L282.8 317.7L283.0 318.3L283.2 318.9L283.4 319.6L283.6 320.2L283.8 320.8L284.0 321.5L284.1 322.2L284.3 322.8L284.5 323.5L284.7 324.2L284.8 324.9L285.0 325.6L285.2 326.4L285.3 327.1L285.5 327.9L285.7 328.6L285.8 329.4L286.0 330.2L286.1 331.0L286.3 331.8L286.4 332.6L286.6 333.5L286.7 334.3L286.9 335.2L287.0 336.1L287.2 337.0L287.3 337.9L287.4 338.9L287.6 339.8L287.7 340.8L287.8 341.8L287.9 342.8L288.1 343.9L288.2 344.9L288.3 346.0L288.4 347.1L288.5 348.2L288.6 349.4L288.7 350.6L288.8 351.8L290.9 370.0L294.4 350.4L294.6 347.6L294.9 344.9L295.1 342.3L295.4 339.8L295.6 337.3L295.9 334.9L296.2 332.6L296.5 330.3L296.8 328.1L297.1 326.0L297.4 323.9L297.7 321.8L298.0 319.8L298.4 317.9L298.7 316.0L299.1 314.1L299.4 312.3L299.8 310.5L300.1 308.8L300.5 307.1L300.9 305.4L301.3 303.8L301.7 302.2L302.1 300.6L302.5 299.0L302.9 297.5L303.3 296.0L303.8 294.6L304.2 293.1L304.7 291.7L305.1 290.3L305.6 288.9L306.0 287.6L306.5 286.2L307.0 284.9L307.5 283.6L308.0 282.4L308.5 281.1L309.0 279.9L309.5 278.6L310.0 277.4L310.6 276.2L311.1 275.1L311.6 273.9L312.2 272.8L312.7 271.6L313.3 270.5L313.9 269.4L314.4 268.3L315.0 267.2L315.6 266.2L316.2 265.1L316.8 264.1L317.4 263.1L318.0 262.0L318.6 261.0L319.2 260.0L319.9 259.0L320.5 258.1L321.1 257.1L321.8 256.1L322.4 255.2L323.1 254.2L323.8 253.3L324.4 252.4L325.1 251.5L325.8 250.6L326.5 249.7L327.2 248.8L327.9 247.9L328.6 247.0L329.3 246.1L330.0 245.3L330.7 244.4L331.4 243.6L332.2 242.7L332.9 241.9L333.7 241.1L334.4 240.3L335.2 239.5L335.9 238.7L336.7 237.9L337.4 237.1L338.2 236.3L339.0 235.5L339.8 234.7L340.6 234.0L341.3 233.2L342.1 232.4L342.9 231.7L343.7 231.0L344.5 230.2L345.4 229.5L346.2 228.8L347.0 228.1L347.8 227.3L348.7 226.6L349.5 225.9L350.3 225.2L351.2 224.6L352.0 223.9L352.9 223.2L353.7 222.5L354.6 221.9L355.4 221.2L356.3 220.6L357.2 219.9L358.1 219.3L358.9 218.6L359.8 218.0L360.7 217.4L361.6 216.8L362.5 216.1L363.4 215.5L364.3 214.9L365.2 214.3L366.1 213.8L367.0 213.2L367.9 212.6L368.8 212.0L369.7 211.5L370.6 210.9L371.6 210.3L372.5 209.8L373.4 209.3L374.4 208.7L375.3 208.2L376.2 207.7L377.2 207.1L378.1 206.6L379.0 206.1L380.0 205.6L380.9 205.1L381.9 204.6L382.8 204.1L383.8 203.7L384.7 203.2L385.7 202.7L386.7 202.3L387.6 201.8L388.6 201.4L389.6 200.9L390.5 200.5L391.5 200.1L392.5 199.6L393.4 199.2L394.4 198.8L395.4 198.4L396.4 198.0L397.3 197.6L398.3 197.2L399.3 196.8L400.3 196.4L401.3 196.1L402.2 195.7L403.2 195.3L404.2 195.0L405.2 194.6L406.2 194.3L407.2 193.9L408.1 193.6L409.1 193.3L410.1 192.9L411.1 192.6L412.1 192.3L413.1 192.0L414.1 191.7L415.1 191.4L416.1 191.1L417.0 190.8L418.0 190.5L419.0 190.3L420.0 190.0L421.0 189.7L422.0 189.5L423.0 189.2L424.0 189.0L425.0 188.7L425.9 188.5L426.9 188.3L427.9 188.0L428.9 187.8L429.9 187.6L430.9 187.4L431.8 187.2L432.8 187.0L433.8 186.8L434.8 186.6L435.8 186.4L436.7 186.2L437.7 186.1L438.7 185.9L439.7 185.7L440.6 185.6L441.6 185.4L442.6 185.3L443.5 185.1L444.5 185.0L445.5 184.9L446.4 184.8L447.4 184.6L448.4 184.5L449.3 184.4L450.3 184.3L451.2 184.2L452.2 184.1L453.1 184.0L454.1 183.9L455.0 183.9L455.9 183.8L456.9 183.7L457.8 183.7L458.7 183.6L459.7 183.6L460.6 183.5L461.5 183.5L462.5 183.4L463.4 183.4L464.3 183.4L465.2 183.4L466.1 183.4L467.0 183.4L467.9 183.4L468.8 183.4L469.7 183.4L470.6 183.4L471.5 183.4L472.4 183.5L473.3 183.5L474.2 183.6L475.0 183.6L475.9 183.7L476.8 183.7L477.7 183.8L478.5 183.9L479.4 184.0L480.2 184.1L481.1 184.2L481.9 184.3L482.8 184.4L483.6 184.5L484.4 184.6L485.3 184.8L486.1 184.9L486.9 185.1L487.7 185.2L488.6 185.4L489.4 185.6L490.2 185.7L491.0 185.9L491.8 186.1L492.5 186.3L493.3 186.6L494.1 186.8L494.9 187.0L495.7 187.3L496.4 187.5L497.2 187.8L497.9 188.0L498.7 188.3L499.4 188.6L500.2 188.9L500.9 189.2L501.7 189.5L502.4 189.8L503.1 190.2L503.8 190.5L504.5 190.9L505.2 191.2L505.9 191.6L506.6 192.0L507.3 192.4L508.0 192.8L508.7 193.2L509.3 193.6L510.0 194.1L510.7 194.5L511.3 195.0L512.0 195.5L512.6 195.9L513.2 196.4L513.9 197.0L514.5 197.5L515.1 198.0L515.7 198.6L516.3 199.1L516.9 199.7L517.5 200.3L518.1 200.9L518.7 201.5L519.2 202.1L519.8 202.8L520.4 203.5L520.9 204.1L521.5 204.8L522.0 205.5L522.5 206.2L523.1 207.0L523.6 207.7L524.1 208.5L524.6 209.3L525.1 210.1L525.6 210.9L526.1 211.8L526.6 212.6L527.1 213.5L527.5 214.4L528.0 215.3L528.4 216.3L528.9 217.2L529.3 218.2L529.8 219.2L530.2 220.3L530.6 221.3L531.0 222.4L531.4 223.5L531.8 224.6L532.2 225.8L532.6 227.0L533.0 228.2L533.3 229.4L533.7 230.7L534.0 232.0L534.4 233.3L534.7 234.7L535.1 236.1L535.4 237.6L535.7 239.0L536.0 240.6L536.3 242.1L536.6 243.8L536.9 245.4L537.2 247.1L537.5 248.9L537.7 250.7L538.0 252.6L538.2 254.5L538.5 256.5L538.7 258.6L538.9 260.7L539.2 262.9L539.4 265.2L539.6 267.6L539.8 270.1L540.0 272.7L540.1 275.4L540.3 278.3L540.5 281.2L540.6 284.4L540.8 287.6L540.9 291.1L541.1 294.8L541.2 298.6L541.3 302.8L541.4 307.2L541.5 312.0L542.2 330.0" fill="none" stroke="#000" stroke-width="2" stroke-linejoin="round"/>
<path d="M39.3 167.2L39.5 167.2L39.6 167.3L39.8 167.4L40.0 167.5L40.2 167.6L40.4 167.7L40.5 167.8L40.7 167.9L40.9 168.0L41.1 168.1L41.3 168.2L41.5 168.3L41.7 168.4L41.9 168.6L42.1 168.7L42.4 168.8L42.6 169.0L42.9 169.1L43.2 169.3L43.4 169.4L43.7 169.6L44.0 169.7L44.2 169.8L44.3 169.9L44.5 170.0L44.7 170.1L44.8 170.2L45.0 170.3L45.2 170.4L45.3 170.5L45.5 170.6L45.7 170.7L45.8 170.8L46.0 170.9L46.2 171.0L46.4 171.1L46.6 171.2L46.8 171.3L46.9 171.4L47.1 171.5L47.3 171.6L47.5 171.7L47.7 171.8L47.9 171.9L48.1 172.0L48.3 172.2L48.5 172.3L48.7 172.4L49.0 172.5L49.2 172.6L49.4 172.8L49.6 172.9L49.8 173.0L50.0 173.1L50.2 173.3L50.5 173.4L50.7 173.5L50.9 173.6L51.2 173.8L51.4 173.9L51.6 174.0L51.9 174.2L52.1 174.3L52.3 174.5L52.6 174.6L52.8 174.7L53.0 174.9L53.3 175.0L53.5 175.2L53.8 175.3L54.0 175.5L54.3 175.6L54.5 175.8L54.8 175.9L55.1 176.1L55.3 176.2L55.6 176.4L55.8 176.5L56.1 176.7L56.4 176.8L56.6 177.0L56.9 177.2L57.2 177.3L57.4 177.5L57.7 177.7L58.0 177.8L58.3 178.0L58.5 178.2L58.8 178.3L59.1 178.5L59.4 178.7L59.7 178.8L59.9 179.0L60.2 179.2L60.5 179.4L60.8 179.5L61.1 179.7L61.4 179.9L61.7 180.1L62.0 180.3L62.3 180.4L62.5 180.6L62.8 180.8L63.1 181.0L63.4 181.2L63.7 181.4L64.0 181.6L64.3 181.8L64.6 182.0L64.9 182.2L65.2 182.4L65.6 182.5L65.9 182.7L66.2 182.9L66.5 183.1L66.8 183.3L67.1 183.5L67.4 183.8L67.7 184.0L68.0 184.2L68.3 184.4L68.7 184.6L69.0 184.8L69.3 185.0L69.6 185.2L69.9 185.4L70.2 185.6L70.6 185.8L70.9 186.1L71.2 186.3L71.5 186.5L71.8 186.7L72.2 186.9L72.5 187.2L72.8 187.4L73.1 187.6L73.5 187.8L73.8 188.1L74.1 188.3L74.4 188.5L74.7 188.7L75.1 189.0L75.4 189.2L75.7 189.4L76.1 189.7L76.4 189.9L76.7 190.2L77.0 190.4L77.4 190.6L77.7 190.9L78.0 191.1L78.4 191.4L78.7 191.6L79.0 191.8L79.3 192.1L79.7 192.3L80.0 192.6L80.3 192.8L80.7 193.1L81.0 193.3L81.3 193.6L81.6 193.8L82.0 194.1L82.3 194.4L82.6 194.6L83.0 194.9L83.3 195.1L83.6 195.4L83.9 195.7L84.3 195.9L84.6 196.2L84.9 196.4L85.3 196.7L85.6 197.0L85.9 197.3L86.2 197.5L86.6 197.8L86.9 198.1L87.2 198.3L87.6 198.6L87.9 198.9L88.2 199.2L88.5 199.5L88.8 199.7L89.2 200.0L89.5 200.3L89.8 200.6L90.1 200.9L90.5 201.2L90.8 201.4L91.1 201.7L91.4 202.0L91.7 202.3L92.1 202.6L92.4 202.9L92.7 203.2L93.0 203.5L93.3 203.8L93.6 204.1L94.0 204.4L94.3 204.7L94.6 205.0L94.9 205.3L95.2 205.6L95.5 205.9L95.8 206.3L96.1 206.6L96.4 206.9L96.7 207.2L97.1 207.5L97.4 207.8L97.7 208.2L98.0 208.5L98.3 208.8L98.6 209.1L98.9 209.5L99.2 209.8L99.5 210.1L99.8 210.5L100.0 210.8L100.3 211.1L100.6 211.5L100.9 211.8L101.2 212.1L101.5 212.5L101.8 212.8L102.1 213.2L102.4 213.5L102.6 213.9L102.9 214.2L103.2 214.6L103.5 214.9L103.8 215.3L104.0 215.7L104.3 216.0L104.6 216.4L104.9 216.8L105.1 217.1L105.4 217.5L105.7 217.9L105.9 218.3L106.2 218.6L106.5 219.0L106.7 219.4L107.0 219.8L107.2 220.2L107.5 220.6L107.8 221.0L108.0 221.4L108.3 221.8L108.5 222.2L108.8 222.6L109.0 223.0L109.3 223.4L109.5 223.8L109.7 224.2L110.0 224.6L110.2 225.1L110.4 225.5L110.7 225.9L110.9 226.4L111.1 226.8L111.4 227.2L111.6 227.7L111.8 228.1L112.1 228.6L112.3 229.0L112.5 229.5L112.7 230.0L112.9 230.4L113.1 230.9L113.3 231.4L113.6 231.9L113.8 232.4L114.0 232.8L114.2 233.3L114.4 233.8L114.6 234.3L114.8 234.9L115.0 235.4L115.2 235.9L115.4 236.4L115.5 237.0L115.7 237.5L115.9 238.0L116.1 238.6L116.3 239.1L116.5 239.7L116.6 240.3L116.8 240.9L117.0 241.4L117.1 242.0L117.3 242.6L117.5 243.2L117.6 243.9L117.8 244.5L118.0 245.1L118.1 245.8L118.3 246.4L118.4 247.1L118.6 247.7L118.7 248.4L118.9 249.1L119.0 249.8L119.1 250.5L119.3 251.3L119.4 252.0L119.5 252.7L119.7 253.5L119.8 254.3L119.9 255.1L120.0 255.9L120.2 256.7L120.3 257.6L120.4 258.4L120.5 259.3L120.6 260.2L120.7 261.1L120.8 262.0L120.9 263.0L121.0 264.0L121.1 265.0L121.2 266.0L121.3 267.1L121.4 268.2L121.5 269.3L121.6 270.4L121.7 271.6L121.8 272.8L121.8 274.1L121.9 275.4L122.0 276.8L123.0 295.0" fill="none" stroke="#000" stroke-width="1.6" stroke-dasharray="11.5 11.5" stroke-dashoffset="0.00" stroke-linejoin="round"/>
<path d="M123.0 295.0L124.7 276.1L124.8 274.8L124.9 273.5L125.0 272.3L125.1 271.1L125.2 270.0L125.3 268.9L125.4 267.8L125.5 266.8L125.6 265.8L125.7 264.8L125.8 263.8L126.0 262.9L126.1 262.0L126.2 261.1L126.3 260.2L126.5 259.4L126.6 258.6L126.7 257.8L126.9 257.0L127.0 256.3L127.1 255.5L127.3 254.8L127.4 254.1L127.6 253.4L127.7 252.8L127.9 252.1L128.1 251.5L128.2 250.9L128.4 250.3L128.5 249.7L128.7 249.1L128.9 248.6L129.0 248.0L129.2 247.5L129.4 247.0L129.6 246.5L129.7 246.0L129.9 245.5L130.1 245.0L130.3 244.6L130.5 244.1L130.7 243.7L130.8 243.3L131.0 242.9L131.2 242.5L131.4 242.1L131.6 241.7L131.8 241.3L132.0 241.0L132.2 240.6L132.5 240.3L132.7 240.0L132.9 239.6L133.1 239.3L133.3 239.0L133.5 238.7L133.7 238.4L134.0 238.1L134.2 237.9L134.4 237.6L134.6 237.3L134.9 237.1L135.1 236.9L135.3 236.6L135.6 236.4L135.8 236.2L136.0 235.9L136.3 235.7L136.5 235.5L136.8 235.3L137.0 235.1L137.3 235.0L137.5 234.8L137.8 234.6L138.0 234.4L138.3 234.3L138.5 234.1L138.8 234.0L139.0 233.8L139.3 233.7L139.6 233.6L139.8 233.4L140.1 233.3L140.4 233.2L140.6 233.1L140.9 233.0L141.2 232.9L141.4 232.8L141.7 232.7L142.0 232.6L142.3 232.5L142.5 232.4L142.8 232.3L143.1 232.3L143.4 232.2L143.7 232.1L143.9 232.1L144.2 232.0L144.5 232.0L144.8 231.9L145.1 231.9L145.4 231.8L145.7 231.8L146.0 231.8L146.3 231.7L146.6 231.7L146.9 231.7L147.2 231.7L147.5 231.7L147.8 231.7L148.1 231.6L148.4 231.6L148.7 231.6L149.0 231.6L149.3 231.6L149.6 231.6L149.9 231.7L150.2 231.7L150.5 231.7L150.8 231.7L151.1 231.7L151.5 231.7L151.8 231.8L152.1 231.8L152.4 231.8L152.7 231.9L153.0 231.9L153.3 231.9L153.7 232.0L154.0 232.0L154.3 232.1L154.6 232.1L154.9 232.2L155.3 232.2L155.6 232.3L155.9 232.3L156.2 232.4L156.5 232.4L156.9 232.5L157.2 232.6L157.5 232.6L157.8 232.7L158.2 232.8L158.5 232.8L158.8 232.9L159.1 233.0L159.5 233.1L159.8 233.2L160.1 233.2L160.5 233.3L160.8 233.4L161.1 233.5L161.4 233.6L161.8 233.7L162.1 233.8L162.4 233.9L162.8 233.9L163.1 234.0L163.4 234.1L163.7 234.2L164.1 234.3L164.4 234.4L164.7 234.5L165.1 234.7L165.4 234.8L165.7 234.9L166.1 235.0L166.4 235.1L166.7 235.2L167.0 235.3L167.4 235.4L167.7 235.5L168.0 235.7L168.4 235.8L168.7 235.9L169.0 236.0L169.3 236.2L169.7 236.3L170.0 236.4L170.3 236.5L170.7 236.7L171.0 236.8L171.3 236.9L171.6 237.1L172.0 237.2L172.3 237.3L172.6 237.5L172.9 237.6L173.3 237.7L173.6 237.9L173.9 238.0L174.2 238.2L174.5 238.3L174.9 238.5L175.2 238.6L175.5 238.8L175.8 238.9L176.1 239.1L176.5 239.2L176.8 239.4L177.1 239.5L177.4 239.7L177.7 239.8L178.0 240.0L178.3 240.2L178.7 240.3L179.0 240.5L179.3 240.7L179.6 240.8L179.9 241.0L180.2 241.2L180.5 241.3L180.8 241.5L181.1 241.7L181.4 241.9L181.7 242.0L182.0 242.2L182.3 242.4L182.6 242.6L182.9 242.8L183.2 243.0L183.5 243.1L183.8 243.3L184.1 243.5L184.4 243.7L184.7 243.9L185.0 244.1L185.3 244.3L185.6 244.5L185.8 244.7L186.1 244.9L186.4 245.1L186.7 245.3L187.0 245.6L187.3 245.8L187.5 246.0L187.8 246.2L188.1 246.4L188.4 246.7L188.6 246.9L188.9 247.1L189.2 247.3L189.4 247.6L189.7 247.8L190.0 248.0L190.2 248.3L190.5 248.5L190.8 248.8L191.0 249.0L191.3 249.3L191.5 249.5L191.8 249.8L192.0 250.1L192.3 250.3L192.5 250.6L192.8 250.9L193.0 251.1L193.3 251.4L193.5 251.7L193.8 252.0L194.0 252.3L194.2 252.5L194.5 252.8L194.7 253.1L194.9 253.4L195.2 253.8L195.4 254.1L195.6 254.4L195.8 254.7L196.1 255.0L196.3 255.3L196.5 255.7L196.7 256.0L196.9 256.4L197.1 256.7L197.3 257.1L197.6 257.4L197.8 257.8L198.0 258.1L198.2 258.5L198.4 258.9L198.6 259.3L198.8 259.7L199.0 260.1L199.1 260.5L199.3 260.9L199.5 261.3L199.7 261.7L199.9 262.1L200.1 262.6L200.2 263.0L200.4 263.5L200.6 263.9L200.8 264.4L200.9 264.9L201.1 265.3L201.3 265.8L201.4 266.3L201.6 266.8L201.7 267.4L201.9 267.9L202.1 268.4L202.2 269.0L202.4 269.5L202.5 270.1L202.7 270.7L202.8 271.3L202.9 271.9L203.1 272.5L203.2 273.1L203.3 273.8L203.5 274.4L203.6 275.1L203.7 275.8L203.8 276.5L204.0 277.2L204.1 277.9L204.2 278.7L204.3 279.5L204.4 280.3L206.8 299.0" fill="none" stroke="#000" stroke-width="1.6" stroke-dasharray="11.5 11.5" stroke-dashoffset="19.34" stroke-linejoin="round"/>
<path d="M206.8 299.0L210.0 280.4L210.1 279.7L210.3 279.0L210.4 278.4L210.5 277.7L210.7 277.1L210.8 276.5L211.0 275.9L211.1 275.3L211.3 274.7L211.4 274.2L211.6 273.6L211.7 273.1L211.9 272.5L212.0 272.0L212.2 271.5L212.4 271.0L212.5 270.5L212.7 270.0L212.9 269.5L213.0 269.1L213.2 268.6L213.4 268.2L213.6 267.7L213.7 267.3L213.9 266.8L214.1 266.4L214.3 266.0L214.5 265.6L214.7 265.2L214.9 264.8L215.1 264.4L215.3 264.0L215.5 263.7L215.7 263.3L215.9 262.9L216.1 262.6L216.3 262.2L216.5 261.9L216.7 261.6L216.9 261.2L217.1 260.9L217.4 260.6L217.6 260.3L217.8 260.0L218.0 259.6L218.3 259.3L218.5 259.0L218.7 258.8L218.9 258.5L219.2 258.2L219.4 257.9L219.6 257.6L219.9 257.4L220.1 257.1L220.4 256.8L220.6 256.6L220.9 256.3L221.1 256.1L221.4 255.8L221.6 255.6L221.9 255.4L222.1 255.1L222.4 254.9L222.6 254.7L222.9 254.5L223.2 254.2L223.4 254.0L223.7 253.8L223.9 253.6L224.2 253.4L224.5 253.2L224.8 253.0L225.0 252.8L225.3 252.6L225.6 252.4L225.9 252.3L226.1 252.1L226.4 251.9L226.7 251.7L227.0 251.6L227.3 251.4L227.5 251.2L227.8 251.1L228.1 250.9L228.4 250.8L228.7 250.6L229.0 250.5L229.3 250.3L229.6 250.2L229.9 250.0L230.2 249.9L230.5 249.8L230.8 249.6L231.1 249.5L231.4 249.4L231.7 249.2L232.0 249.1L232.3 249.0L232.6 248.9L232.9 248.8L233.2 248.7L233.5 248.6L233.8 248.5L234.1 248.4L234.4 248.3L234.7 248.2L235.0 248.1L235.4 248.0L235.7 247.9L236.0 247.8L236.3 247.7L236.6 247.6L236.9 247.5L237.2 247.5L237.6 247.4L237.9 247.3L238.2 247.2L238.5 247.2L238.8 247.1L239.2 247.1L239.5 247.0L239.8 246.9L240.1 246.9L240.5 246.8L240.8 246.8L241.1 246.7L241.4 246.7L241.8 246.6L242.1 246.6L242.4 246.6L242.7 246.5L243.1 246.5L243.4 246.5L243.7 246.4L244.1 246.4L244.4 246.4L244.7 246.3L245.0 246.3L245.4 246.3L245.7 246.3L246.0 246.3L246.4 246.3L246.7 246.3L247.0 246.2L247.4 246.2L247.7 246.2L248.0 246.2L248.4 246.2L248.7 246.2L249.0 246.2L249.3 246.3L249.7 246.3L250.0 246.3L250.3 246.3L250.7 246.3L251.0 246.3L251.3 246.4L251.7 246.4L252.0 246.4L252.3 246.4L252.7 246.5L253.0 246.5L253.3 246.5L253.6 246.6L254.0 246.6L254.3 246.7L254.6 246.7L255.0 246.7L255.3 246.8L255.6 246.8L255.9 246.9L256.3 247.0L256.6 247.0L256.9 247.1L257.2 247.1L257.6 247.2L257.9 247.3L258.2 247.3L258.5 247.4L258.9 247.5L259.2 247.6L259.5 247.7L259.8 247.7L260.1 247.8L260.5 247.9L260.8 248.0L261.1 248.1L261.4 248.2L261.7 248.3L262.0 248.4L262.3 248.5L262.7 248.6L263.0 248.7L263.3 248.8L263.6 248.9L263.9 249.1L264.2 249.2L264.5 249.3L264.8 249.4L265.1 249.5L265.4 249.7L265.7 249.8L266.0 249.9L266.3 250.1L266.6 250.2L266.9 250.4L267.2 250.5L267.5 250.7L267.8 250.8L268.1 251.0L268.4 251.1L268.7 251.3L269.0 251.5L269.3 251.6L269.6 251.8L269.9 252.0L270.2 252.1L270.4 252.3L270.7 252.5L271.0 252.7L271.3 252.9L271.6 253.1L271.8 253.3L272.1 253.5L272.4 253.7L272.7 253.9L272.9 254.1L273.2 254.3L273.5 254.5L273.8 254.8L274.0 255.0L274.3 255.2L274.5 255.4L274.8 255.7L275.1 255.9L275.3 256.2L275.6 256.4L275.8 256.7L276.1 256.9L276.3 257.2L276.6 257.4L276.8 257.7L277.1 258.0L277.3 258.3L277.6 258.6L277.8 258.8L278.1 259.1L278.3 259.4L278.5 259.7L278.8 260.0L279.0 260.3L279.2 260.7L279.4 261.0L279.7 261.3L279.9 261.6L280.1 262.0L280.3 262.3L280.6 262.7L280.8 263.0L281.0 263.4L281.2 263.7L281.4 264.1L281.6 264.5L281.8 264.9L282.0 265.3L282.2 265.7L282.4 266.1L282.6 266.5L282.8 266.9L283.0 267.3L283.2 267.7L283.4 268.2L283.6 268.6L283.8 269.1L284.0 269.5L284.1 270.0L284.3 270.5L284.5 271.0L284.7 271.4L284.8 272.0L285.0 272.5L285.2 273.0L285.3 273.5L285.5 274.1L285.7 274.6L285.8 275.2L286.0 275.7L286.1 276.3L286.3 276.9L290.9 295.0" fill="none" stroke="#000" stroke-width="1.6" stroke-dasharray="11.5 11.5" stroke-dashoffset="15.04" stroke-linejoin="round"/>
<path d="M290.9 295.0L294.9 276.1L295.1 275.0L295.4 273.9L295.6 272.8L295.9 271.8L296.2 270.8L296.5 269.9L296.8 268.9L297.1 268.0L297.4 267.1L297.7 266.2L298.0 265.4L298.4 264.5L298.7 263.7L299.1 262.9L299.4 262.1L299.8 261.4L300.1 260.6L300.5 259.9L300.9 259.2L301.3 258.5L301.7 257.8L302.1 257.1L302.5 256.4L302.9 255.8L303.3 255.1L303.8 254.5L304.2 253.8L304.7 253.2L305.1 252.6L305.6 252.0L306.0 251.4L306.5 250.9L307.0 250.3L307.5 249.7L308.0 249.2L308.5 248.6L309.0 248.1L309.5 247.5L310.0 247.0L310.6 246.5L311.1 246.0L311.6 245.5L312.2 245.0L312.7 244.5L313.3 244.0L313.9 243.5L314.4 243.0L315.0 242.6L315.6 242.1L316.2 241.7L316.8 241.2L317.4 240.7L318.0 240.3L318.6 239.9L319.2 239.4L319.9 239.0L320.5 238.6L321.1 238.2L321.8 237.7L322.4 237.3L323.1 236.9L323.8 236.5L324.4 236.1L325.1 235.7L325.8 235.3L326.5 234.9L327.2 234.5L327.9 234.2L328.6 233.8L329.3 233.4L330.0 233.0L330.7 232.7L331.4 232.3L332.2 232.0L332.9 231.6L333.7 231.3L334.4 230.9L335.2 230.6L335.9 230.2L336.7 229.9L337.4 229.6L338.2 229.2L339.0 228.9L339.8 228.6L340.6 228.3L341.3 227.9L342.1 227.6L342.9 227.3L343.7 227.0L344.5 226.7L345.4 226.4L346.2 226.1L347.0 225.8L347.8 225.5L348.7 225.2L349.5 225.0L350.3 224.7L351.2 224.4L352.0 224.1L352.9 223.9L353.7 223.6L354.6 223.3L355.4 223.1L356.3 222.8L357.2 222.6L358.1 222.3L358.9 222.1L359.8 221.8L360.7 221.6L361.6 221.4L362.5 221.1L363.4 220.9L364.3 220.7L365.2 220.5L366.1 220.2L367.0 220.0L367.9 219.8L368.8 219.6L369.7 219.4L370.6 219.2L371.6 219.0L372.5 218.8L373.4 218.6L374.4 218.4L375.3 218.3L376.2 218.1L377.2 217.9L378.1 217.7L379.0 217.6L380.0 217.4L380.9 217.2L381.9 217.1L382.8 216.9L383.8 216.8L384.7 216.6L385.7 216.5L386.7 216.3L387.6 216.2L388.6 216.0L389.6 215.9L390.5 215.8L391.5 215.7L392.5 215.5L393.4 215.4L394.4 215.3L395.4 215.2L396.4 215.1L397.3 215.0L398.3 214.8L399.3 214.7L400.3 214.6L401.3 214.5L402.2 214.5L403.2 214.4L404.2 214.3L405.2 214.2L406.2 214.1L407.2 214.0L408.1 214.0L409.1 213.9L410.1 213.8L411.1 213.7L412.1 213.7L413.1 213.6L414.1 213.6L415.1 213.5L416.1 213.4L417.0 213.4L418.0 213.3L419.0 213.3L420.0 213.3L421.0 213.2L422.0 213.2L423.0 213.1L424.0 213.1L425.0 213.1L425.9 213.0L426.9 213.0L427.9 213.0L428.9 213.0L429.9 212.9L430.9 212.9L431.8 212.9L432.8 212.9L433.8 212.9L434.8 212.9L435.8 212.9L436.7 212.9L437.7 212.9L438.7 212.9L439.7 212.9L440.6 212.9L441.6 212.9L442.6 212.9L443.5 212.9L444.5 212.9L445.5 212.9L446.4 213.0L447.4 213.0L448.4 213.0L449.3 213.0L450.3 213.1L451.2 213.1L452.2 213.1L453.1 213.2L454.1 213.2L455.0 213.2L455.9 213.3L456.9 213.3L457.8 213.4L458.7 213.4L459.7 213.5L460.6 213.5L461.5 213.6L462.5 213.6L463.4 213.7L464.3 213.8L465.2 213.8L466.1 213.9L467.0 214.0L467.9 214.0L468.8 214.1L469.7 214.2L470.6 214.3L471.5 214.3L472.4 214.4L473.3 214.5L474.2 214.6L475.0 214.7L475.9 214.8L476.8 214.9L477.7 215.0L478.5 215.1L479.4 215.2L480.2 215.3L481.1 215.4L481.9 215.5L482.8 215.7L483.6 215.8L484.4 215.9L485.3 216.0L486.1 216.2L486.9 216.3L487.7 216.4L488.6 216.6L489.4 216.7L490.2 216.9L491.0 217.0L491.8 217.2L492.5 217.3L493.3 217.5L494.1 217.7L494.9 217.8L495.7 218.0L496.4 218.2L497.2 218.4L497.9 218.6L498.7 218.7L499.4 218.9L500.2 219.1L500.9 219.3L501.7 219.5L502.4 219.7L503.1 220.0L503.8 220.2L504.5 220.4L505.2 220.6L505.9 220.8L506.6 221.1L507.3 221.3L508.0 221.6L508.7 221.8L509.3 222.1L510.0 222.3L510.7 222.6L511.3 222.8L512.0 223.1L512.6 223.4L513.2 223.7L513.9 223.9L514.5 224.2L515.1 224.5L515.7 224.8L516.3 225.1L516.9 225.4L517.5 225.8L518.1 226.1L518.7 226.4L519.2 226.7L519.8 227.1L520.4 227.4L520.9 227.8L521.5 228.1L522.0 228.5L522.5 228.8L523.1 229.2L523.6 229.6L524.1 230.0L524.6 230.4L525.1 230.8L525.6 231.2L526.1 231.6L526.6 232.0L527.1 232.4L527.5 232.9L528.0 233.3L528.4 233.7L528.9 234.2L529.3 234.7L529.8 235.1L530.2 235.6L530.6 236.1L531.0 236.6L531.4 237.1L531.8 237.6L532.2 238.1L532.6 238.7L533.0 239.2L533.3 239.8L533.7 240.3L534.0 240.9L534.4 241.5L534.7 242.1L535.1 242.7L535.4 243.4L535.7 244.0L536.0 244.7L536.3 245.3L536.6 246.0L536.9 246.7L537.2 247.4L537.5 248.2L537.7 249.0L538.0 249.7L538.2 250.5L538.5 251.4L538.7 252.2L538.9 253.1L539.2 254.0L539.4 255.0L539.6 255.9L539.8 257.0L540.0 258.0L540.1 259.1L540.3 260.2L540.5 261.4L540.6 262.7L540.8 264.0L540.9 265.4L541.1 266.8L541.2 268.4L541.3 270.0L541.4 271.7L541.5 273.6L541.6 275.6L541.7 277.8L541.8 280.2L541.9 282.9L542.0 285.8L542.0 289.2L542.1 293.0L542.1 297.6L542.1 303.2L542.2 310.4L542.2 330.0" fill="none" stroke="#000" stroke-width="1.6" stroke-dasharray="11.5 11.5" stroke-dashoffset="5.11" stroke-linejoin="round"/>
<path d="M39.3 97.0L39.5 97.1L39.6 97.1L39.8 97.2L40.0 97.2L40.2 97.2L40.4 97.3L40.5 97.3L40.7 97.4L40.9 97.4L41.1 97.5L41.3 97.5L41.5 97.6L41.7 97.6L41.9 97.7L42.1 97.7L42.4 97.8L42.6 97.9L42.9 97.9L43.2 98.0L43.4 98.1L43.7 98.1L44.0 98.2L44.2 98.3L44.3 98.3L44.5 98.4L44.7 98.4L44.8 98.4L45.0 98.5L45.2 98.5L45.3 98.6L45.5 98.6L45.7 98.7L45.8 98.7L46.0 98.8L46.2 98.8L46.4 98.9L46.6 98.9L46.8 99.0L46.9 99.0L47.1 99.1L47.3 99.1L47.5 99.2L47.7 99.3L47.9 99.3L48.1 99.4L48.3 99.4L48.5 99.5L48.7 99.6L49.0 99.6L49.2 99.7L49.4 99.8L49.6 99.8L49.8 99.9L50.0 100.0L50.2 100.0L50.5 100.1L50.7 100.2L50.9 100.2L51.2 100.3L51.4 100.4L51.6 100.5L51.9 100.5L52.1 100.6L52.3 100.7L52.6 100.8L52.8 100.8L53.0 100.9L53.3 101.0L53.5 101.1L53.8 101.2L54.0 101.3L54.3 101.3L54.5 101.4L54.8 101.5L55.1 101.6L55.3 101.7L55.6 101.8L55.8 101.9L56.1 102.0L56.4 102.1L56.6 102.2L56.9 102.3L57.2 102.4L57.4 102.5L57.7 102.6L58.0 102.7L58.3 102.8L58.5 102.9L58.8 103.0L59.1 103.1L59.4 103.2L59.7 103.3L59.9 103.4L60.2 103.5L60.5 103.6L60.8 103.7L61.1 103.9L61.4 104.0L61.7 104.1L62.0 104.2L62.3 104.3L62.5 104.5L62.8 104.6L63.1 104.7L63.4 104.8L63.7 105.0L64.0 105.1L64.3 105.2L64.6 105.3L64.9 105.5L65.2 105.6L65.6 105.7L65.9 105.9L66.2 106.0L66.5 106.2L66.8 106.3L67.1 106.4L67.4 106.6L67.7 106.7L68.0 106.9L68.3 107.0L68.7 107.2L69.0 107.3L69.3 107.5L69.6 107.6L69.9 107.8L70.2 107.9L70.6 108.1L70.9 108.2L71.2 108.4L71.5 108.6L71.8 108.7L72.2 108.9L72.5 109.1L72.8 109.2L73.1 109.4L73.5 109.6L73.8 109.7L74.1 109.9L74.4 110.1L74.7 110.3L75.1 110.4L75.4 110.6L75.7 110.8L76.1 111.0L76.4 111.2L76.7 111.3L77.0 111.5L77.4 111.7L77.7 111.9L78.0 112.1L78.4 112.3L78.7 112.5L79.0 112.7L79.3 112.9L79.7 113.1L80.0 113.3L80.3 113.5L80.7 113.7L81.0 113.9L81.3 114.1L81.6 114.3L82.0 114.5L82.3 114.7L82.6 115.0L83.0 115.2L83.3 115.4L83.6 115.6L83.9 115.8L84.3 116.1L84.6 116.3L84.9 116.5L85.3 116.7L85.6 117.0L85.9 117.2L86.2 117.4L86.6 117.7L86.9 117.9L87.2 118.1L87.6 118.4L87.9 118.6L88.2 118.9L88.5 119.1L88.8 119.4L89.2 119.6L89.5 119.9L89.8 120.1L90.1 120.4L90.5 120.6L90.8 120.9L91.1 121.1L91.4 121.4L91.7 121.7L92.1 121.9L92.4 122.2L92.7 122.5L93.0 122.8L93.3 123.0L93.6 123.3L94.0 123.6L94.3 123.9L94.6 124.1L94.9 124.4L95.2 124.7L95.5 125.0L95.8 125.3L96.1 125.6L96.4 125.9L96.7 126.2L97.1 126.5L97.4 126.8L97.7 127.1L98.0 127.4L98.3 127.7L98.6 128.0L98.9 128.3L99.2 128.6L99.5 128.9L99.8 129.3L100.0 129.6L100.3 129.9L100.6 130.2L100.9 130.6L101.2 130.9L101.5 131.2L101.8 131.6L102.1 131.9L102.4 132.2L102.6 132.6L102.9 132.9L103.2 133.3L103.5 133.6L103.8 134.0L104.0 134.3L104.3 134.7L104.6 135.1L104.9 135.4L105.1 135.8L105.4 136.2L105.7 136.5L105.9 136.9L106.2 137.3L106.5 137.7L106.7 138.0L107.0 138.4L107.2 138.8L107.5 139.2L107.8 139.6L108.0 140.0L108.3 140.4L108.5 140.8L108.8 141.2L109.0 141.6L109.3 142.1L109.5 142.5L109.7 142.9L110.0 143.3L110.2 143.8L110.4 144.2L110.7 144.6L110.9 145.1L111.1 145.5L111.4 146.0L111.6 146.4L111.8 146.9L112.1 147.4L112.3 147.8L112.5 148.3L112.7 148.8L112.9 149.3L113.1 149.7L113.3 150.2L113.6 150.7L113.8 151.2L114.0 151.7L114.2 152.2L114.4 152.8L114.6 153.3L114.8 153.8L115.0 154.3L115.2 154.9L115.4 155.4L115.5 156.0L115.7 156.6L115.9 157.1L116.1 157.7L116.3 158.3L116.5 158.9L116.6 159.5L116.8 160.1L117.0 160.7L117.1 161.3L117.3 161.9L117.5 162.5L117.6 163.2L117.8 163.8L118.0 164.5L118.1 165.2L118.3 165.9L118.4 166.6L118.6 167.3L118.7 168.0L118.9 168.7L119.0 169.4L119.1 170.2L119.3 170.9L119.4 171.7L119.5 172.5L119.7 173.3L119.8 174.1L119.9 175.0L120.0 175.8L120.2 176.7L120.3 177.6L120.4 178.5L120.5 179.4L120.6 180.4L120.7 181.3L120.8 182.3L120.9 183.3L121.0 184.3L121.1 185.4L121.2 186.5L121.3 187.6L121.4 188.8L121.5 189.9L121.6 191.2L121.7 192.4L121.8 193.7L121.8 195.0L121.9 196.4L122.0 197.8L122.1 199.3L122.1 200.8L122.2 202.4L122.3 204.0L122.3 205.8L122.4 207.5L122.4 209.4L122.5 211.4L122.5 213.4L122.6 215.6L122.6 217.9L122.7 220.3L122.7 222.9L122.7 225.7L122.8 228.7L122.8 231.9L122.8 235.4L122.9 239.2L122.9 243.4L123.0 263.0" fill="none" stroke="#0000ff" stroke-width="1.65" stroke-dasharray="19 3.9" stroke-dashoffset="0.00" stroke-linejoin="round"/>
<path d="M123.0 263.0L123.1 244.2L123.2 240.3L123.2 236.7L123.2 233.3L123.3 230.3L123.3 227.4L123.3 224.8L123.4 222.3L123.4 219.9L123.5 217.7L123.5 215.6L123.6 213.6L123.6 211.7L123.7 209.8L123.7 208.1L123.8 206.4L123.9 204.8L123.9 203.3L124.0 201.8L124.1 200.4L124.2 199.0L124.2 197.7L124.3 196.4L124.4 195.2L124.5 194.0L124.6 192.8L124.7 191.7L124.8 190.6L124.9 189.6L125.0 188.6L125.1 187.6L125.2 186.6L125.3 185.6L125.4 184.7L125.5 183.8L125.6 183.0L125.7 182.1L125.8 181.3L126.0 180.5L126.1 179.7L126.2 178.9L126.3 178.2L126.5 177.4L126.6 176.7L126.7 176.0L126.9 175.3L127.0 174.7L127.1 174.0L127.3 173.4L127.4 172.7L127.6 172.1L127.7 171.5L127.9 170.9L128.1 170.4L128.2 169.8L128.4 169.2L128.5 168.7L128.7 168.2L128.9 167.6L129.0 167.1L129.2 166.6L129.4 166.2L129.6 165.7L129.7 165.2L129.9 164.8L130.1 164.3L130.3 163.9L130.5 163.4L130.7 163.0L130.8 162.6L131.0 162.2L131.2 161.8L131.4 161.4L131.6 161.0L131.8 160.6L132.0 160.3L132.2 159.9L132.5 159.6L132.7 159.2L132.9 158.9L133.1 158.5L133.3 158.2L133.5 157.9L133.7 157.6L134.0 157.3L134.2 157.0L134.4 156.7L134.6 156.4L134.9 156.1L135.1 155.8L135.3 155.6L135.6 155.3L135.8 155.1L136.0 154.8L136.3 154.6L136.5 154.3L136.8 154.1L137.0 153.9L137.3 153.6L137.5 153.4L137.8 153.2L138.0 153.0L138.3 152.8L138.5 152.6L138.8 152.4L139.0 152.2L139.3 152.0L139.6 151.8L139.8 151.7L140.1 151.5L140.4 151.3L140.6 151.2L140.9 151.0L141.2 150.8L141.4 150.7L141.7 150.6L142.0 150.4L142.3 150.3L142.5 150.1L142.8 150.0L143.1 149.9L143.4 149.8L143.7 149.7L143.9 149.6L144.2 149.4L144.5 149.3L144.8 149.2L145.1 149.2L145.4 149.1L145.7 149.0L146.0 148.9L146.3 148.8L146.6 148.7L146.9 148.7L147.2 148.6L147.5 148.5L147.8 148.5L148.1 148.4L148.4 148.4L148.7 148.3L149.0 148.3L149.3 148.2L149.6 148.2L149.9 148.2L150.2 148.1L150.5 148.1L150.8 148.1L151.1 148.1L151.5 148.0L151.8 148.0L152.1 148.0L152.4 148.0L152.7 148.0L153.0 148.0L153.3 148.0L153.7 148.0L154.0 148.0L154.3 148.0L154.6 148.0L154.9 148.1L155.3 148.1L155.6 148.1L155.9 148.1L156.2 148.2L156.5 148.2L156.9 148.2L157.2 148.3L157.5 148.3L157.8 148.4L158.2 148.4L158.5 148.5L158.8 148.5L159.1 148.6L159.5 148.6L159.8 148.7L160.1 148.8L160.5 148.8L160.8 148.9L161.1 149.0L161.4 149.0L161.8 149.1L162.1 149.2L162.4 149.3L162.8 149.4L163.1 149.5L163.4 149.6L163.7 149.7L164.1 149.8L164.4 149.9L164.7 150.0L165.1 150.1L165.4 150.2L165.7 150.3L166.1 150.4L166.4 150.5L166.7 150.7L167.0 150.8L167.4 150.9L167.7 151.0L168.0 151.2L168.4 151.3L168.7 151.4L169.0 151.6L169.3 151.7L169.7 151.9L170.0 152.0L170.3 152.2L170.7 152.3L171.0 152.5L171.3 152.6L171.6 152.8L172.0 152.9L172.3 153.1L172.6 153.3L172.9 153.4L173.3 153.6L173.6 153.8L173.9 154.0L174.2 154.1L174.5 154.3L174.9 154.5L175.2 154.7L175.5 154.9L175.8 155.1L176.1 155.3L176.5 155.5L176.8 155.7L177.1 155.9L177.4 156.1L177.7 156.3L178.0 156.5L178.3 156.7L178.7 156.9L179.0 157.1L179.3 157.3L179.6 157.5L179.9 157.8L180.2 158.0L180.5 158.2L180.8 158.4L181.1 158.7L181.4 158.9L181.7 159.1L182.0 159.4L182.3 159.6L182.6 159.8L182.9 160.1L183.2 160.3L183.5 160.6L183.8 160.8L184.1 161.1L184.4 161.3L184.7 161.6L185.0 161.9L185.3 162.1L185.6 162.4L185.8 162.6L186.1 162.9L186.4 163.2L186.7 163.5L187.0 163.7L187.3 164.0L187.5 164.3L187.8 164.6L188.1 164.9L188.4 165.2L188.6 165.4L188.9 165.7L189.2 166.0L189.4 166.3L189.7 166.6L190.0 166.9L190.2 167.2L190.5 167.5L190.8 167.9L191.0 168.2L191.3 168.5L191.5 168.8L191.8 169.1L192.0 169.4L192.3 169.8L192.5 170.1L192.8 170.4L193.0 170.8L193.3 171.1L193.5 171.4L193.8 171.8L194.0 172.1L194.2 172.5L194.5 172.8L194.7 173.2L194.9 173.5L195.2 173.9L195.4 174.3L195.6 174.6L195.8 175.0L196.1 175.4L196.3 175.7L196.5 176.1L196.7 176.5L196.9 176.9L197.1 177.3L197.3 177.7L197.6 178.1L197.8 178.5L198.0 178.9L198.2 179.3L198.4 179.7L198.6 180.1L198.8 180.5L199.0 181.0L199.1 181.4L199.3 181.8L199.5 182.3L199.7 182.7L199.9 183.2L200.1 183.6L200.2 184.1L200.4 184.6L200.6 185.0L200.8 185.5L200.9 186.0L201.1 186.5L201.3 187.0L201.4 187.5L201.6 188.0L201.7 188.5L201.9 189.0L202.1 189.5L202.2 190.1L202.4 190.6L202.5 191.2L202.7 191.7L202.8 192.3L202.9 192.9L203.1 193.5L203.2 194.1L203.3 194.7L203.5 195.3L203.6 195.9L203.7 196.6L203.8 197.2L204.0 197.9L204.1 198.5L204.2 199.2L204.3 199.9L204.4 200.6L204.5 201.4L204.6 202.1L204.7 202.9L204.8 203.7L204.9 204.5L205.0 205.3L205.1 206.1L205.2 207.0L205.3 207.9L205.4 208.8L205.5 209.8L205.6 210.7L205.6 211.7L205.7 212.7L205.8 213.8L205.9 214.9L205.9 216.1L206.0 217.2L206.1 218.5L206.1 219.8L206.2 221.1L206.2 222.5L206.3 224.0L206.3 225.5L206.4 227.1L206.4 228.8L206.5 230.6L206.5 232.6L206.8 252.0" fill="none" stroke="#0000ff" stroke-width="1.65" stroke-dasharray="19 3.9" stroke-dashoffset="1.71" stroke-linejoin="round"/>
<path d="M206.8 252.0L207.2 233.9L207.3 232.1L207.3 230.5L207.4 228.9L207.4 227.4L207.5 226.0L207.5 224.6L207.6 223.3L207.7 222.0L207.7 220.8L207.8 219.7L207.9 218.6L208.0 217.5L208.0 216.5L208.1 215.5L208.2 214.5L208.3 213.5L208.4 212.6L208.5 211.8L208.6 210.9L208.7 210.1L208.8 209.3L208.9 208.5L209.0 207.7L209.1 207.0L209.2 206.3L209.3 205.6L209.4 204.9L209.5 204.2L209.6 203.6L209.8 202.9L209.9 202.3L210.0 201.7L210.1 201.1L210.3 200.5L210.4 200.0L210.5 199.4L210.7 198.9L210.8 198.4L211.0 197.8L211.1 197.3L211.3 196.8L211.4 196.4L211.6 195.9L211.7 195.4L211.9 195.0L212.0 194.5L212.2 194.1L212.4 193.7L212.5 193.3L212.7 192.9L212.9 192.5L213.0 192.1L213.2 191.7L213.4 191.3L213.6 190.9L213.7 190.6L213.9 190.2L214.1 189.9L214.3 189.5L214.5 189.2L214.7 188.9L214.9 188.6L215.1 188.2L215.3 187.9L215.5 187.6L215.7 187.3L215.9 187.1L216.1 186.8L216.3 186.5L216.5 186.2L216.7 186.0L216.9 185.7L217.1 185.5L217.4 185.2L217.6 185.0L217.8 184.7L218.0 184.5L218.3 184.3L218.5 184.0L218.7 183.8L218.9 183.6L219.2 183.4L219.4 183.2L219.6 183.0L219.9 182.8L220.1 182.6L220.4 182.4L220.6 182.2L220.9 182.1L221.1 181.9L221.4 181.7L221.6 181.6L221.9 181.4L222.1 181.2L222.4 181.1L222.6 180.9L222.9 180.8L223.2 180.7L223.4 180.5L223.7 180.4L223.9 180.3L224.2 180.1L224.5 180.0L224.8 179.9L225.0 179.8L225.3 179.7L225.6 179.6L225.9 179.5L226.1 179.4L226.4 179.3L226.7 179.2L227.0 179.1L227.3 179.0L227.5 178.9L227.8 178.8L228.1 178.8L228.4 178.7L228.7 178.6L229.0 178.6L229.3 178.5L229.6 178.4L229.9 178.4L230.2 178.3L230.5 178.3L230.8 178.2L231.1 178.2L231.4 178.2L231.7 178.1L232.0 178.1L232.3 178.1L232.6 178.0L232.9 178.0L233.2 178.0L233.5 178.0L233.8 178.0L234.1 178.0L234.4 178.0L234.7 178.0L235.0 178.0L235.4 178.0L235.7 178.0L236.0 178.0L236.3 178.0L236.6 178.0L236.9 178.0L237.2 178.0L237.6 178.1L237.9 178.1L238.2 178.1L238.5 178.1L238.8 178.2L239.2 178.2L239.5 178.3L239.8 178.3L240.1 178.3L240.5 178.4L240.8 178.4L241.1 178.5L241.4 178.5L241.8 178.6L242.1 178.7L242.4 178.7L242.7 178.8L243.1 178.9L243.4 178.9L243.7 179.0L244.1 179.1L244.4 179.2L244.7 179.3L245.0 179.4L245.4 179.4L245.7 179.5L246.0 179.6L246.4 179.7L246.7 179.8L247.0 179.9L247.4 180.0L247.7 180.1L248.0 180.2L248.4 180.4L248.7 180.5L249.0 180.6L249.3 180.7L249.7 180.8L250.0 181.0L250.3 181.1L250.7 181.2L251.0 181.3L251.3 181.5L251.7 181.6L252.0 181.8L252.3 181.9L252.7 182.0L253.0 182.2L253.3 182.3L253.6 182.5L254.0 182.7L254.3 182.8L254.6 183.0L255.0 183.1L255.3 183.3L255.6 183.5L255.9 183.6L256.3 183.8L256.6 184.0L256.9 184.2L257.2 184.3L257.6 184.5L257.9 184.7L258.2 184.9L258.5 185.1L258.9 185.3L259.2 185.5L259.5 185.7L259.8 185.8L260.1 186.1L260.5 186.3L260.8 186.5L261.1 186.7L261.4 186.9L261.7 187.1L262.0 187.3L262.3 187.5L262.7 187.7L263.0 188.0L263.3 188.2L263.6 188.4L263.9 188.6L264.2 188.9L264.5 189.1L264.8 189.3L265.1 189.6L265.4 189.8L265.7 190.1L266.0 190.3L266.3 190.6L266.6 190.8L266.9 191.1L267.2 191.3L267.5 191.6L267.8 191.8L268.1 192.1L268.4 192.4L268.7 192.6L269.0 192.9L269.3 193.2L269.6 193.4L269.9 193.7L270.2 194.0L270.4 194.3L270.7 194.6L271.0 194.8L271.3 195.1L271.6 195.4L271.8 195.7L272.1 196.0L272.4 196.3L272.7 196.6L272.9 196.9L273.2 197.2L273.5 197.5L273.8 197.8L274.0 198.2L274.3 198.5L274.5 198.8L274.8 199.1L275.1 199.4L275.3 199.8L275.6 200.1L275.8 200.4L276.1 200.8L276.3 201.1L276.6 201.5L276.8 201.8L277.1 202.1L277.3 202.5L277.6 202.9L277.8 203.2L278.1 203.6L278.3 203.9L278.5 204.3L278.8 204.7L279.0 205.0L279.2 205.4L279.4 205.8L279.7 206.2L279.9 206.6L280.1 207.0L280.3 207.4L280.6 207.8L280.8 208.2L281.0 208.6L281.2 209.0L281.4 209.4L281.6 209.8L281.8 210.2L282.0 210.7L282.2 211.1L282.4 211.5L282.6 212.0L282.8 212.4L283.0 212.9L283.2 213.3L283.4 213.8L283.6 214.2L283.8 214.7L284.0 215.2L284.1 215.7L284.3 216.2L284.5 216.7L284.7 217.2L284.8 217.7L285.0 218.2L285.2 218.7L285.3 219.2L285.5 219.7L285.7 220.3L285.8 220.8L286.0 221.4L286.1 221.9L286.3 222.5L286.4 223.1L286.6 223.7L286.7 224.3L286.9 224.9L287.0 225.5L287.2 226.1L287.3 226.7L287.4 227.4L287.6 228.0L287.7 228.7L287.8 229.4L290.9 248.0" fill="none" stroke="#0000ff" stroke-width="1.65" stroke-dasharray="19 3.9" stroke-dashoffset="6.80" stroke-linejoin="round"/>
<path d="M290.9 248.0L294.1 229.9L294.2 229.5L294.2 229.2L294.3 228.9L294.4 228.6L294.5 228.3L294.6 228.0L294.7 227.7L294.8 227.4L294.9 227.1L294.9 226.8L295.0 226.5L295.1 226.2L295.2 225.9L295.3 225.7L295.4 225.4L295.5 225.1L295.6 224.9L295.7 224.6L295.8 224.4L295.9 224.1L296.0 223.9L296.1 223.6L296.2 223.4L296.3 223.2L296.4 222.9L296.5 222.7L296.6 222.5L296.7 222.3L296.8 222.0L297.0 221.8L297.1 221.6L297.2 221.4L297.3 221.2L297.4 221.0L297.5 220.8L297.6 220.6L297.7 220.4L297.8 220.2L298.0 220.0L298.1 219.8L298.2 219.7L298.3 219.5L298.4 219.3L298.5 219.1L298.7 218.9L298.8 218.8L298.9 218.6L299.0 218.5L299.1 218.3L299.3 218.1L299.4 218.0L299.5 217.8L299.8 217.5L300.0 217.2L300.3 217.0L300.5 216.7L300.8 216.4L301.1 216.2L301.3 216.0L301.6 215.7L301.8 215.5L302.1 215.3L302.4 215.1L302.7 214.9L302.9 214.7L303.2 214.6L303.5 214.4L303.8 214.3L304.1 214.1L304.3 214.0L304.6 213.9L304.9 213.7L305.2 213.6L305.5 213.5L305.8 213.5L306.1 213.4L306.3 213.3L306.6 213.2L306.9 213.2L307.2 213.1L307.5 213.1L307.8 213.1L308.1 213.1L308.4 213.1L308.7 213.1L309.0 213.1L309.3 213.1L309.6 213.1L309.9 213.1L310.2 213.2L310.5 213.2L310.8 213.3L311.1 213.4L311.3 213.5L311.6 213.5L311.9 213.6L312.2 213.7L312.5 213.9L312.8 214.0L313.1 214.1L313.4 214.2L313.7 214.4L314.0 214.5L314.3 214.7L314.5 214.9L314.8 215.1L315.1 215.3L315.4 215.5L315.7 215.7L315.9 215.9L316.2 216.1L316.5 216.3L316.8 216.6L317.0 216.8L317.3 217.1L317.6 217.4L317.9 217.6L318.1 217.9L318.4 218.2L318.5 218.4L318.6 218.5L318.8 218.7L318.9 218.8L319.0 219.0L319.2 219.2L319.3 219.3L319.4 219.5L319.5 219.7L319.7 219.8L319.8 220.0L319.9 220.2L320.0 220.4L320.2 220.6L320.3 220.7L320.4 220.9L320.5 221.1L320.6 221.3L320.8 221.5L320.9 221.7L321.0 221.9L321.1 222.1L321.2 222.3L321.3 222.5L321.5 222.7L321.6 222.9L321.7 223.2L321.8 223.4L321.9 223.6L322.0 223.8L322.1 224.0L322.2 224.3L322.3 224.5L322.5 224.7L322.6 225.0L322.7 225.2L322.8 225.5L322.9 225.7L323.0 226.0L323.1 226.2L323.2 226.5L323.3 226.7L323.4 227.0L323.5 227.3L323.6 227.5L323.7 227.8L323.8 228.1L323.9 228.3L324.0 228.6L324.1 228.9L324.2 229.2L324.3 229.5L324.4 229.8L324.4 230.1L324.5 230.4L324.6 230.7L324.7 231.0L328.4 249.3" fill="none" stroke="#0000ff" stroke-width="1.65" stroke-dasharray="19 3.9" stroke-dashoffset="9.61" stroke-linejoin="round"/>
<path d="M328.4 249.3L332.7 231.0L332.9 229.7L333.1 228.4L333.4 227.1L333.7 225.9L333.9 224.7L334.2 223.6L334.5 222.4L334.8 221.4L335.0 220.3L335.3 219.3L335.6 218.2L335.9 217.3L336.3 216.3L336.6 215.4L336.9 214.4L337.2 213.6L337.6 212.7L337.9 211.8L338.3 211.0L338.6 210.2L339.0 209.4L339.4 208.6L339.7 207.8L340.1 207.1L340.5 206.3L340.9 205.6L341.3 204.9L341.7 204.2L342.1 203.5L342.5 202.8L342.9 202.2L343.4 201.5L343.8 200.9L344.2 200.3L344.7 199.7L345.1 199.1L345.6 198.5L346.0 197.9L346.5 197.3L347.0 196.8L347.5 196.2L347.9 195.7L348.4 195.1L348.9 194.6L349.4 194.1L349.9 193.6L350.4 193.1L350.9 192.6L351.5 192.1L352.0 191.6L352.5 191.1L353.1 190.7L353.6 190.2L354.1 189.8L354.7 189.3L355.2 188.9L355.8 188.4L356.4 188.0L356.9 187.6L357.5 187.1L358.1 186.7L358.7 186.3L359.3 185.9L359.9 185.5L360.5 185.1L361.1 184.7L361.7 184.4L362.3 184.0L362.9 183.6L363.5 183.2L364.1 182.9L364.8 182.5L365.4 182.1L366.1 181.8L366.7 181.4L367.3 181.1L368.0 180.7L368.6 180.4L369.3 180.1L370.0 179.7L370.6 179.4L371.3 179.1L372.0 178.8L372.7 178.4L373.4 178.1L374.0 177.8L374.7 177.5L375.4 177.2L376.1 176.9L376.8 176.6L377.5 176.3L378.2 176.0L379.0 175.7L379.7 175.5L380.4 175.2L381.1 174.9L381.8 174.6L382.6 174.3L383.3 174.1L384.1 173.8L384.8 173.5L385.5 173.3L386.3 173.0L387.0 172.8L387.8 172.5L388.5 172.3L389.3 172.0L390.1 171.8L390.8 171.5L391.6 171.3L392.4 171.0L393.1 170.8L393.9 170.6L394.7 170.4L395.5 170.1L396.2 169.9L397.0 169.7L397.8 169.5L398.6 169.3L399.4 169.0L400.2 168.8L401.0 168.6L401.8 168.4L402.6 168.2L403.4 168.0L404.2 167.8L405.0 167.6L405.8 167.4L406.6 167.2L407.4 167.1L408.2 166.9L409.1 166.7L409.9 166.5L410.7 166.3L411.5 166.2L412.3 166.0L413.2 165.8L414.0 165.7L414.8 165.5L415.6 165.3L416.5 165.2L417.3 165.0L418.1 164.9L419.0 164.7L419.8 164.6L420.6 164.4L421.5 164.3L422.3 164.2L423.1 164.0L424.0 163.9L424.8 163.8L425.6 163.6L426.5 163.5L427.3 163.4L428.2 163.3L429.0 163.2L429.8 163.0L430.7 162.9L431.5 162.8L432.4 162.7L433.2 162.6L434.0 162.5L434.9 162.4L435.7 162.3L436.6 162.2L437.4 162.1L438.2 162.0L439.1 162.0L439.9 161.9L440.8 161.8L441.6 161.7L442.4 161.6L443.3 161.6L444.1 161.5L445.0 161.4L445.8 161.4L446.6 161.3L447.5 161.2L448.3 161.2L449.1 161.1L450.0 161.1L450.8 161.0L451.6 161.0L452.5 160.9L453.3 160.9L454.1 160.9L455.0 160.8L455.8 160.8L456.6 160.8L457.4 160.7L458.3 160.7L459.1 160.7L459.9 160.7L460.7 160.7L461.5 160.6L462.4 160.6L463.2 160.6L464.0 160.6L464.8 160.6L465.6 160.6L466.4 160.6L467.2 160.6L468.0 160.6L468.8 160.6L469.6 160.6L470.4 160.7L471.2 160.7L472.0 160.7L472.8 160.7L473.6 160.8L474.4 160.8L475.1 160.8L475.9 160.9L476.7 160.9L477.5 160.9L478.2 161.0L479.0 161.0L479.8 161.1L480.5 161.1L481.3 161.2L482.1 161.3L482.8 161.3L483.6 161.4L484.3 161.5L485.1 161.5L485.8 161.6L486.5 161.7L487.3 161.8L488.0 161.9L488.8 161.9L489.5 162.0L490.2 162.1L490.9 162.2L491.6 162.3L492.4 162.4L493.1 162.6L493.8 162.7L494.5 162.8L495.2 162.9L495.9 163.0L496.6 163.2L497.2 163.3L497.9 163.4L498.6 163.6L499.3 163.7L500.0 163.9L500.6 164.0L501.3 164.2L502.0 164.3L502.6 164.5L503.3 164.7L503.9 164.8L504.5 165.0L505.2 165.2L505.8 165.4L506.5 165.6L507.1 165.8L507.7 166.0L508.3 166.2L508.9 166.4L509.5 166.6L510.1 166.8L510.7 167.0L511.3 167.3L511.9 167.5L512.5 167.7L513.1 168.0L513.7 168.2L514.2 168.5L514.8 168.7L515.4 169.0L515.9 169.3L516.5 169.5L517.0 169.8L517.5 170.1L518.1 170.4L518.6 170.7L519.1 171.0L519.7 171.3L520.2 171.6L520.7 171.9L521.2 172.3L521.7 172.6L522.2 173.0L522.7 173.3L523.1 173.7L523.6 174.0L524.1 174.4L524.6 174.8L525.0 175.2L525.5 175.6L525.9 176.0L526.4 176.4L526.8 176.8L527.2 177.2L527.7 177.6L528.1 178.1L528.5 178.5L528.9 179.0L529.3 179.5L529.7 180.0L530.1 180.5L530.5 181.0L530.9 181.5L531.2 182.0L531.6 182.5L532.0 183.1L532.3 183.6L532.7 184.2L533.0 184.8L533.4 185.4L533.7 186.0L534.0 186.6L534.3 187.3L534.7 187.9L535.0 188.6L535.3 189.3L535.6 190.0L535.8 190.7L536.1 191.4L536.4 192.2L536.7 193.0L536.9 193.8L537.2 194.6L537.5 195.4L537.7 196.3L537.9 197.2L538.2 198.1L538.4 199.1L538.6 200.0L538.8 201.0L539.0 202.1L539.2 203.2L539.4 204.3L539.6 205.4L539.8 206.6L540.0 207.9L540.1 209.2L540.3 210.5L540.5 212.0L540.6 213.4L540.7 215.0L540.9 216.6L541.0 218.3L541.1 220.1L541.2 222.0L541.4 224.0L541.5 226.2L541.6 228.5L541.6 231.0L541.7 233.7L541.8 236.6L541.9 239.8L541.9 243.3L542.0 247.2L542.0 251.7L542.1 256.9L542.1 263.0L542.1 270.5L542.2 280.1L542.2 293.7L542.2 320.0" fill="none" stroke="#0000ff" stroke-width="1.65" stroke-dasharray="19 3.9" stroke-dashoffset="3.55" stroke-linejoin="round"/>
<path d="M39.3 322.0L39.5 302.8L39.6 300.6L39.6 298.5L39.6 296.6L39.7 294.9L39.7 293.2L39.8 291.6L39.8 290.1L39.9 288.7L39.9 287.4L40.0 286.1L40.0 284.8L40.1 283.7L40.2 282.5L40.2 281.5L40.3 280.4L40.4 279.4L40.5 278.4L40.5 277.5L40.6 276.6L40.7 275.8L40.8 274.9L40.9 274.1L41.0 273.3L41.1 272.6L41.2 271.8L41.3 271.1L41.4 270.4L41.5 269.8L41.6 269.1L41.7 268.5L41.8 267.9L41.9 267.3L42.0 266.7L42.1 266.1L42.3 265.6L42.4 265.0L42.5 264.5L42.6 264.0L42.8 263.5L42.9 263.0L43.0 262.5L43.2 262.1L43.3 261.6L43.4 261.2L43.6 260.8L43.7 260.4L43.9 260.0L44.0 259.6L44.2 259.2L44.3 258.8L44.5 258.4L44.7 258.1L44.8 257.7L45.0 257.4L45.2 257.1L45.3 256.8L45.5 256.4L45.7 256.1L45.8 255.8L46.0 255.6L46.2 255.3L46.4 255.0L46.6 254.7L46.8 254.5L46.9 254.2L47.1 254.0L47.3 253.8L47.5 253.5L47.7 253.3L47.9 253.1L48.1 252.9L48.3 252.7L48.5 252.5L48.7 252.3L49.0 252.1L49.2 251.9L49.4 251.8L49.6 251.6L49.8 251.4L50.0 251.3L50.2 251.1L50.5 251.0L50.7 250.9L50.9 250.7L51.2 250.6L51.4 250.5L51.6 250.4L51.9 250.3L52.1 250.2L52.3 250.1L52.6 250.0L52.8 249.9L53.0 249.8L53.3 249.7L53.5 249.7L53.8 249.6L54.0 249.6L54.3 249.5L54.5 249.5L54.8 249.4L55.1 249.4L55.3 249.3L55.6 249.3L55.8 249.3L56.1 249.3L56.4 249.3L56.6 249.3L56.9 249.3L57.2 249.3L57.4 249.3L57.7 249.3L58.0 249.3L58.3 249.3L58.5 249.3L58.8 249.4L59.1 249.4L59.4 249.5L59.7 249.5L59.9 249.6L60.2 249.6L60.5 249.7L60.8 249.7L61.1 249.8L61.4 249.9L61.7 250.0L62.0 250.1L62.3 250.2L62.5 250.2L62.8 250.3L63.1 250.5L63.4 250.6L63.7 250.7L64.0 250.8L64.3 250.9L64.6 251.0L64.9 251.2L65.2 251.3L65.6 251.5L65.9 251.6L66.2 251.8L66.5 251.9L66.8 252.1L67.1 252.2L67.4 252.4L67.7 252.6L68.0 252.8L68.3 252.9L68.7 253.1L69.0 253.3L69.3 253.5L69.6 253.7L69.9 253.9L70.2 254.1L70.6 254.3L70.9 254.6L71.2 254.8L71.5 255.0L71.8 255.2L72.2 255.5L72.5 255.7L72.8 256.0L73.1 256.2L73.5 256.5L73.8 256.7L74.1 257.0L74.4 257.3L74.7 257.5L75.1 257.8L75.4 258.1L75.7 258.4L76.1 258.7L76.4 259.0L76.7 259.3L77.0 259.6L77.4 259.9L77.7 260.2L78.0 260.5L78.4 260.8L78.7 261.1L79.0 261.5L79.3 261.8L79.7 262.1L80.0 262.5L80.3 262.8L80.7 263.2L81.0 263.5L81.3 263.9L81.6 264.2L82.0 264.6L82.3 265.0L82.6 265.4L83.0 265.7L83.3 266.1L83.6 266.5L83.9 266.9L84.3 267.3L84.6 267.7L84.9 268.1L85.3 268.5L85.6 268.9L85.9 269.3L86.2 269.7L86.6 270.1L86.9 270.6L87.2 271.0L87.6 271.4L87.9 271.9L88.2 272.3L88.5 272.8L88.8 273.2L89.2 273.7L89.5 274.1L89.8 274.6L90.1 275.0L90.5 275.5L90.8 276.0L91.1 276.4L91.4 276.9L91.7 277.4L92.1 277.9L92.4 278.4L92.7 278.9L93.0 279.4L93.3 279.9L93.6 280.4L94.0 280.9L94.3 281.4L94.6 281.9L94.9 282.4L95.2 283.0L95.5 283.5L95.8 284.0L96.1 284.5L96.4 285.1L96.7 285.6L97.1 286.2L97.4 286.7L97.7 287.3L98.0 287.8L98.3 288.4L98.6 288.9L98.9 289.5L99.2 290.1L99.5 290.6L99.8 291.2L100.0 291.8L100.3 292.4L100.6 292.9L100.9 293.5L101.2 294.1L101.5 294.7L101.8 295.3L102.1 295.9L102.4 296.5L102.6 297.1L102.9 297.7L103.2 298.4L103.5 299.0L103.8 299.6L104.0 300.2L104.3 300.9L104.6 301.5L104.9 302.1L105.1 302.8L105.4 303.4L105.7 304.0L105.9 304.7L106.2 305.3L106.5 306.0L106.7 306.7L107.0 307.3L107.2 308.0L107.5 308.7L107.8 309.3L108.0 310.0L108.3 310.7L108.5 311.4L108.8 312.1L109.0 312.8L109.3 313.5L109.5 314.2L109.7 314.9L110.0 315.6L110.2 316.3L110.4 317.0L110.7 317.7L110.9 318.5L111.1 319.2L111.4 319.9L111.6 320.7L111.8 321.4L112.1 322.1L112.3 322.9L112.5 323.6L112.7 324.4L112.9 325.2L113.1 325.9L113.3 326.7L113.6 327.5L113.8 328.3L114.0 329.1L114.2 329.9L114.4 330.7L114.6 331.5L114.8 332.3L115.0 333.1L115.2 333.9L115.4 334.8L115.5 335.6L115.7 336.5L115.9 337.3L116.1 338.2L116.3 339.0L116.5 339.9L116.6 340.8L116.8 341.7L117.0 342.6L117.1 343.5L117.3 344.4L117.5 345.3L117.6 346.3L117.8 347.2L118.0 348.1L118.1 349.1L118.3 350.1L118.4 351.1L118.6 352.1L118.7 353.1L118.9 354.1L119.0 355.1L119.1 356.2L119.3 357.2L119.4 358.3L119.5 359.4L119.7 360.5L119.8 361.6L119.9 362.8L120.0 363.9L120.2 365.1L120.3 366.3L120.4 367.5L120.5 368.7L120.6 370.0L120.7 371.3L120.8 372.6L120.9 373.9L123.0 392.7L126.6 373.3L126.7 371.8L126.9 370.4L127.0 369.0L127.1 367.6L127.3 366.2L127.4 364.9L127.6 363.6L127.7 362.3L127.9 361.1L128.1 359.9L128.2 358.7L128.4 357.5L128.5 356.4L128.7 355.2L128.9 354.1L129.0 353.1L129.2 352.0L129.4 351.0L129.6 350.0L129.7 349.0L129.9 348.0L130.1 347.0L130.3 346.1L130.5 345.2L130.7 344.3L130.8 343.4L131.0 342.5L131.2 341.6L131.4 340.8L131.6 340.0L131.8 339.2L132.0 338.4L132.2 337.6L132.5 336.9L132.7 336.1L132.9 335.4L133.1 334.7L133.3 334.0L133.5 333.3L133.7 332.6L134.0 331.9L134.2 331.3L134.4 330.6L134.6 330.0L134.9 329.4L135.1 328.8L135.3 328.2L135.6 327.6L135.8 327.1L136.0 326.5L136.3 325.9L136.5 325.4L136.8 324.9L137.0 324.4L137.3 323.9L137.5 323.4L137.8 322.9L138.0 322.4L138.3 322.0L138.5 321.5L138.8 321.1L139.0 320.6L139.3 320.2L139.6 319.8L139.8 319.4L140.1 319.0L140.4 318.6L140.6 318.2L140.9 317.9L141.2 317.5L141.4 317.1L141.7 316.8L142.0 316.5L142.3 316.1L142.5 315.8L142.8 315.5L143.1 315.2L143.4 314.9L143.7 314.6L143.9 314.3L144.2 314.1L144.5 313.8L144.8 313.6L145.1 313.3L145.4 313.1L145.7 312.8L146.0 312.6L146.3 312.4L146.6 312.2L146.9 312.0L147.2 311.8L147.5 311.6L147.8 311.4L148.1 311.2L148.4 311.0L148.7 310.9L149.0 310.7L149.3 310.6L149.6 310.4L149.9 310.3L150.2 310.2L150.5 310.0L150.8 309.9L151.1 309.8L151.5 309.7L151.8 309.6L152.1 309.5L152.4 309.4L152.7 309.3L153.0 309.3L153.3 309.2L153.7 309.1L154.0 309.1L154.3 309.0L154.6 309.0L154.9 308.9L155.3 308.9L155.6 308.9L155.9 308.8L156.2 308.8L156.5 308.8L156.9 308.8L157.2 308.8L157.5 308.8L157.8 308.8L158.2 308.8L158.5 308.8L158.8 308.9L159.1 308.9L159.5 308.9L159.8 309.0L160.1 309.0L160.5 309.1L160.8 309.1L161.1 309.2L161.4 309.2L161.8 309.3L162.1 309.4L162.4 309.5L162.8 309.6L163.1 309.7L163.4 309.8L163.7 309.9L164.1 310.0L164.4 310.1L164.7 310.2L165.1 310.3L165.4 310.4L165.7 310.6L166.1 310.7L166.4 310.8L166.7 311.0L167.0 311.1L167.4 311.3L167.7 311.4L168.0 311.6L168.4 311.7L168.7 311.9L169.0 312.1L169.3 312.3L169.7 312.5L170.0 312.6L170.3 312.8L170.7 313.0L171.0 313.2L171.3 313.4L171.6 313.6L172.0 313.9L172.3 314.1L172.6 314.3L172.9 314.5L173.3 314.8L173.6 315.0L173.9 315.2L174.2 315.5L174.5 315.7L174.9 316.0L175.2 316.2L175.5 316.5L175.8 316.7L176.1 317.0L176.5 317.3L176.8 317.6L177.1 317.8L177.4 318.1L177.7 318.4L178.0 318.7L178.3 319.0L178.7 319.3L179.0 319.6L179.3 319.9L179.6 320.2L179.9 320.5L180.2 320.9L180.5 321.2L180.8 321.5L181.1 321.8L181.4 322.2L181.7 322.5L182.0 322.9L182.3 323.2L182.6 323.6L182.9 323.9L183.2 324.3L183.5 324.6L183.8 325.0L184.1 325.4L184.4 325.8L184.7 326.1L185.0 326.5L185.3 326.9L185.6 327.3L185.8 327.7L186.1 328.1L186.4 328.5L186.7 328.9L187.0 329.3L187.3 329.7L187.5 330.2L187.8 330.6L188.1 331.0L188.4 331.4L188.6 331.9L188.9 332.3L189.2 332.8L189.4 333.2L189.7 333.7L190.0 334.1L190.2 334.6L190.5 335.1L190.8 335.6L191.0 336.0L191.3 336.5L191.5 337.0L191.8 337.5L192.0 338.0L192.3 338.5L192.5 339.0L192.8 339.5L193.0 340.0L193.3 340.6L193.5 341.1L193.8 341.6L194.0 342.1L194.2 342.7L194.5 343.2L194.7 343.8L194.9 344.4L195.2 344.9L195.4 345.5L195.6 346.1L195.8 346.6L196.1 347.2L196.3 347.8L196.5 348.4L196.7 349.0L196.9 349.6L197.1 350.3L197.3 350.9L197.6 351.5L197.8 352.2L198.0 352.8L198.2 353.5L198.4 354.1L198.6 354.8L198.8 355.5L199.0 356.2L199.1 356.8L199.3 357.5L199.5 358.3L199.7 359.0L199.9 359.7L200.1 360.4L200.2 361.2L200.4 361.9L200.6 362.7L200.8 363.5L200.9 364.3L201.1 365.1L201.3 365.9L201.4 366.7L201.6 367.5L201.7 368.4L201.9 369.2L202.1 370.1L202.2 371.0L202.4 371.8L202.5 372.8L202.7 373.7L202.8 374.6L202.9 375.6L203.1 376.5L203.2 377.5L203.3 378.5L203.5 379.5L203.6 380.6L203.7 381.6L203.8 382.7L204.0 383.8L204.1 385.0L204.2 386.1L204.3 387.3L204.4 388.5L204.5 389.7L204.6 390.9L204.7 392.2L204.8 393.5L204.9 394.9L205.0 396.3L205.1 397.7L205.2 399.1L205.3 400.6L205.4 402.2L205.5 403.7L205.6 405.4L205.6 407.1L205.7 408.8L205.8 410.6L206.8 429.1L208.5 410.2L208.6 408.4L208.7 406.7L208.8 405.0L208.9 403.3L209.0 401.7L209.1 400.2L209.2 398.6L209.3 397.2L209.4 395.7L209.5 394.3L209.6 392.9L209.8 391.5L209.9 390.2L210.0 388.9L210.1 387.6L210.3 386.3L210.4 385.1L210.5 383.9L210.7 382.7L210.8 381.6L211.0 380.4L211.1 379.3L211.3 378.2L211.4 377.1L211.6 376.1L211.7 375.0L211.9 374.0L212.0 373.0L212.2 372.0L212.4 371.0L212.5 370.0L212.7 369.1L212.9 368.2L213.0 367.2L213.2 366.3L213.4 365.4L213.6 364.6L213.7 363.7L213.9 362.8L214.1 362.0L214.3 361.2L214.5 360.4L214.7 359.6L214.9 358.8L215.1 358.0L215.3 357.2L215.5 356.5L215.7 355.7L215.9 355.0L216.1 354.2L216.3 353.5L216.5 352.8L216.7 352.1L216.9 351.4L217.1 350.7L217.4 350.0L217.6 349.4L217.8 348.7L218.0 348.1L218.3 347.4L218.5 346.8L218.7 346.2L218.9 345.6L219.2 345.0L219.4 344.4L219.6 343.8L219.9 343.2L220.1 342.6L220.4 342.0L220.6 341.5L220.9 340.9L221.1 340.3L221.4 339.8L221.6 339.3L221.9 338.7L222.1 338.2L222.4 337.7L222.6 337.2L222.9 336.7L223.2 336.2L223.4 335.7L223.7 335.2L223.9 334.7L224.2 334.3L224.5 333.8L224.8 333.3L225.0 332.9L225.3 332.4L225.6 332.0L225.9 331.5L226.1 331.1L226.4 330.7L226.7 330.3L227.0 329.9L227.3 329.4L227.5 329.0L227.8 328.6L228.1 328.2L228.4 327.9L228.7 327.5L229.0 327.1L229.3 326.7L229.6 326.4L229.9 326.0L230.2 325.7L230.5 325.3L230.8 325.0L231.1 324.6L231.4 324.3L231.7 324.0L232.0 323.6L232.3 323.3L232.6 323.0L232.9 322.7L233.2 322.4L233.5 322.1L233.8 321.8L234.1 321.5L234.4 321.2L234.7 320.9L235.0 320.7L235.4 320.4L235.7 320.1L236.0 319.9L236.3 319.6L236.6 319.4L236.9 319.1L237.2 318.9L237.6 318.6L237.9 318.4L238.2 318.2L238.5 318.0L238.8 317.7L239.2 317.5L239.5 317.3L239.8 317.1L240.1 316.9L240.5 316.7L240.8 316.5L241.1 316.4L241.4 316.2L241.8 316.0L242.1 315.8L242.4 315.7L242.7 315.5L243.1 315.3L243.4 315.2L243.7 315.0L244.1 314.9L244.4 314.8L244.7 314.6L245.0 314.5L245.4 314.4L245.7 314.3L246.0 314.2L246.4 314.0L246.7 313.9L247.0 313.8L247.4 313.7L247.7 313.7L248.0 313.6L248.4 313.5L248.7 313.4L249.0 313.3L249.3 313.3L249.7 313.2L250.0 313.1L250.3 313.1L250.7 313.0L251.0 313.0L251.3 313.0L251.7 312.9L252.0 312.9L252.3 312.9L252.7 312.8L253.0 312.8L253.3 312.8L253.6 312.8L254.0 312.8L254.3 312.8L254.6 312.8L255.0 312.8L255.3 312.8L255.6 312.9L255.9 312.9L256.3 312.9L256.6 313.0L256.9 313.0L257.2 313.0L257.6 313.1L257.9 313.2L258.2 313.2L258.5 313.3L258.9 313.3L259.2 313.4L259.5 313.5L259.8 313.6L260.1 313.7L260.5 313.8L260.8 313.9L261.1 314.0L261.4 314.1L261.7 314.2L262.0 314.3L262.3 314.4L262.7 314.6L263.0 314.7L263.3 314.8L263.6 315.0L263.9 315.1L264.2 315.3L264.5 315.4L264.8 315.6L265.1 315.8L265.4 315.9L265.7 316.1L266.0 316.3L266.3 316.5L266.6 316.7L266.9 316.9L267.2 317.1L267.5 317.3L267.8 317.5L268.1 317.7L268.4 318.0L268.7 318.2L269.0 318.4L269.3 318.7L269.6 318.9L269.9 319.2L270.2 319.5L270.4 319.7L270.7 320.0L271.0 320.3L271.3 320.6L271.6 320.9L271.8 321.1L272.1 321.4L272.4 321.8L272.7 322.1L272.9 322.4L273.2 322.7L273.5 323.0L273.8 323.4L274.0 323.7L274.3 324.1L274.5 324.4L274.8 324.8L275.1 325.2L275.3 325.5L275.6 325.9L275.8 326.3L276.1 326.7L276.3 327.1L276.6 327.5L276.8 328.0L277.1 328.4L277.3 328.8L277.6 329.3L277.8 329.7L278.1 330.2L278.3 330.6L278.5 331.1L278.8 331.6L279.0 332.0L279.2 332.5L279.4 333.0L279.7 333.6L279.9 334.1L280.1 334.6L280.3 335.1L280.6 335.7L280.8 336.2L281.0 336.8L281.2 337.4L281.4 337.9L281.6 338.5L281.8 339.1L282.0 339.7L282.2 340.4L282.4 341.0L282.6 341.6L282.8 342.3L283.0 343.0L283.2 343.6L283.4 344.3L283.6 345.0L283.8 345.7L284.0 346.4L284.1 347.2L284.3 347.9L284.5 348.7L284.7 349.4L284.8 350.2L285.0 351.0L285.2 351.8L285.3 352.7L285.5 353.5L285.7 354.4L285.8 355.2L286.0 356.1L286.1 357.0L286.3 358.0L286.4 358.9L286.6 359.9L286.7 360.9L286.9 361.9L287.0 362.9L287.2 363.9L287.3 365.0L287.4 366.1L287.6 367.2L287.7 368.3L290.9 387.3L294.2 368.7L294.4 366.2L294.6 363.7L294.9 361.3L295.1 359.0L295.4 356.8L295.6 354.6L295.9 352.5L296.2 350.4L296.5 348.4L296.8 346.5L297.1 344.6L297.4 342.8L297.7 341.0L298.0 339.2L298.4 337.5L298.7 335.8L299.1 334.2L299.4 332.6L299.8 331.0L300.1 329.5L300.5 328.0L300.9 326.5L301.3 325.1L301.7 323.7L302.1 322.3L302.5 320.9L302.9 319.6L303.3 318.2L303.8 317.0L304.2 315.7L304.7 314.4L305.1 313.2L305.6 312.0L306.0 310.8L306.5 309.6L307.0 308.5L307.5 307.3L308.0 306.2L308.5 305.1L309.0 304.0L309.5 302.9L310.0 301.8L310.6 300.8L311.1 299.7L311.6 298.7L312.2 297.7L312.7 296.7L313.3 295.7L313.9 294.7L314.4 293.7L315.0 292.7L315.6 291.8L316.2 290.8L316.8 289.9L317.4 289.0L318.0 288.1L318.6 287.1L319.2 286.2L319.9 285.3L320.5 284.5L321.1 283.6L321.8 282.7L322.4 281.8L323.1 281.0L323.8 280.1L324.4 279.3L325.1 278.4L325.8 277.6L326.5 276.8L327.2 276.0L327.9 275.1L328.6 274.3L329.3 273.5L330.0 272.7L330.7 271.9L331.4 271.1L332.2 270.4L332.9 269.6L333.7 268.8L334.4 268.0L335.2 267.3L335.9 266.5L336.7 265.8L337.4 265.0L338.2 264.3L339.0 263.5L339.8 262.8L340.6 262.1L341.3 261.3L342.1 260.6L342.9 259.9L343.7 259.2L344.5 258.5L345.4 257.8L346.2 257.1L347.0 256.4L347.8 255.7L348.7 255.0L349.5 254.3L350.3 253.7L351.2 253.0L352.0 252.3L352.9 251.7L353.7 251.0L354.6 250.4L355.4 249.7L356.3 249.1L357.2 248.5L358.1 247.8L358.9 247.2L359.8 246.6L360.7 246.0L361.6 245.4L362.5 244.8L363.4 244.2L364.3 243.6L365.2 243.0L366.1 242.4L367.0 241.8L367.9 241.3L368.8 240.7L369.7 240.1L370.6 239.6L371.6 239.0L372.5 238.5L373.4 237.9L374.4 237.4L375.3 236.9L376.2 236.4L377.2 235.8L378.1 235.3L379.0 234.8L380.0 234.3L380.9 233.8L381.9 233.3L382.8 232.9L383.8 232.4L384.7 231.9L385.7 231.5L386.7 231.0L387.6 230.6L388.6 230.1L389.6 229.7L390.5 229.2L391.5 228.8L392.5 228.4L393.4 228.0L394.4 227.6L395.4 227.2L396.4 226.8L397.3 226.4L398.3 226.0L399.3 225.6L400.3 225.2L401.3 224.9L402.2 224.5L403.2 224.1L404.2 223.8L405.2 223.5L406.2 223.1L407.2 222.8L408.1 222.5L409.1 222.1L410.1 221.8L411.1 221.5L412.1 221.2L413.1 220.9L414.1 220.6L415.1 220.4L416.1 220.1L417.0 219.8L418.0 219.5L419.0 219.3L420.0 219.0L421.0 218.8L422.0 218.5L423.0 218.3L424.0 218.1L425.0 217.9L425.9 217.6L426.9 217.4L427.9 217.2L428.9 217.0L429.9 216.8L430.9 216.6L431.8 216.4L432.8 216.3L433.8 216.1L434.8 215.9L435.8 215.8L436.7 215.6L437.7 215.5L438.7 215.3L439.7 215.2L440.6 215.0L441.6 214.9L442.6 214.8L443.5 214.7L444.5 214.5L445.5 214.4L446.4 214.3L447.4 214.2L448.4 214.1L449.3 214.1L450.3 214.0L451.2 213.9L452.2 213.8L453.1 213.8L454.1 213.7L455.0 213.7L455.9 213.6L456.9 213.6L457.8 213.5L458.7 213.5L459.7 213.5L460.6 213.5L461.5 213.4L462.5 213.4L463.4 213.4L464.3 213.4L465.2 213.4L466.1 213.5L467.0 213.5L467.9 213.5L468.8 213.5L469.7 213.6L470.6 213.6L471.5 213.7L472.4 213.7L473.3 213.8L474.2 213.9L475.0 213.9L475.9 214.0L476.8 214.1L477.7 214.2L478.5 214.3L479.4 214.4L480.2 214.5L481.1 214.6L481.9 214.7L482.8 214.9L483.6 215.0L484.4 215.2L485.3 215.3L486.1 215.5L486.9 215.6L487.7 215.8L488.6 216.0L489.4 216.2L490.2 216.4L491.0 216.6L491.8 216.8L492.5 217.0L493.3 217.2L494.1 217.5L494.9 217.7L495.7 217.9L496.4 218.2L497.2 218.5L497.9 218.7L498.7 219.0L499.4 219.3L500.2 219.6L500.9 219.9L501.7 220.2L502.4 220.6L503.1 220.9L503.8 221.2L504.5 221.6L505.2 221.9L505.9 222.3L506.6 222.7L507.3 223.1L508.0 223.5L508.7 223.9L509.3 224.3L510.0 224.7L510.7 225.2L511.3 225.6L512.0 226.1L512.6 226.5L513.2 227.0L513.9 227.5L514.5 228.0L515.1 228.5L515.7 229.1L516.3 229.6L516.9 230.1L517.5 230.7L518.1 231.3L518.7 231.9L519.2 232.5L519.8 233.1L520.4 233.7L520.9 234.3L521.5 235.0L522.0 235.6L522.5 236.3L523.1 237.0L523.6 237.7L524.1 238.4L524.6 239.2L525.1 239.9L525.6 240.7L526.1 241.5L526.6 242.3L527.1 243.1L527.5 243.9L528.0 244.8L528.4 245.6L528.9 246.5L529.3 247.4L529.8 248.3L530.2 249.3L530.6 250.3L531.0 251.2L531.4 252.2L531.8 253.3L532.2 254.3L532.6 255.4L533.0 256.5L533.3 257.6L533.7 258.8L534.0 259.9L534.4 261.2L534.7 262.4L535.1 263.7L535.4 265.0L535.7 266.3L536.0 267.7L536.3 269.1L536.6 270.5L536.9 272.0L537.2 273.5L537.5 275.1L537.7 276.7L538.0 278.4L538.2 280.1L538.5 281.9L538.7 283.7L538.9 285.6L539.2 287.6L539.4 289.6L539.6 291.7L539.8 293.9L540.0 296.2L540.1 298.6L540.3 301.1L540.5 303.7L540.6 306.4L540.8 309.3L540.9 312.4L541.1 315.6L541.2 319.0L541.3 322.6L541.4 326.5L541.5 330.7L541.6 335.1L541.7 340.0L541.8 345.4L541.9 351.3L542.0 357.9L542.0 365.4L542.1 374.1L542.1 384.4L542.1 396.9L542.2 413.1L542.2 446.0" fill="none" stroke="#ff0000" stroke-width="2.8" stroke-linejoin="round"/>
<path d="M39.3 74.9L39.5 74.9L39.6 74.9L39.8 74.9L40.0 75.0L40.2 75.0L40.4 75.0L40.5 75.1L40.7 75.1L40.9 75.1L41.1 75.1L41.3 75.2L41.5 75.2L41.7 75.2L41.9 75.2L42.1 75.3L42.4 75.3L42.6 75.4L42.9 75.4L43.2 75.4L43.5 75.5L43.8 75.5L44.1 75.6L44.2 75.6L44.4 75.6L44.5 75.7L44.7 75.7L44.9 75.7L45.0 75.7L45.2 75.8L45.4 75.8L45.5 75.8L45.7 75.9L45.9 75.9L46.1 75.9L46.2 75.9L46.4 76.0L46.6 76.0L46.8 76.0L47.0 76.1L47.2 76.1L47.4 76.1L47.6 76.2L47.8 76.2L48.0 76.3L48.2 76.3L48.4 76.3L48.6 76.4L48.8 76.4L49.0 76.5L49.2 76.5L49.4 76.5L49.6 76.6L49.9 76.6L50.1 76.7L50.3 76.7L50.5 76.8L50.8 76.8L51.0 76.8L51.2 76.9L51.4 76.9L51.7 77.0L51.9 77.0L52.1 77.1L52.4 77.1L52.6 77.2L52.9 77.2L53.1 77.3L53.4 77.3L53.6 77.4L53.9 77.5L54.1 77.5L54.4 77.6L54.6 77.6L54.9 77.7L55.1 77.7L55.4 77.8L55.7 77.9L55.9 77.9L56.2 78.0L56.4 78.0L56.7 78.1L57.0 78.2L57.3 78.2L57.5 78.3L57.8 78.4L58.1 78.4L58.4 78.5L58.6 78.6L58.9 78.7L59.2 78.7L59.5 78.8L59.8 78.9L60.0 78.9L60.3 79.0L60.6 79.1L60.9 79.2L61.2 79.3L61.5 79.3L61.8 79.4L62.1 79.5L62.4 79.6L62.7 79.7L63.0 79.8L63.3 79.8L63.6 79.9L63.9 80.0L64.2 80.1L64.5 80.2L64.8 80.3L65.1 80.4L65.4 80.5L65.7 80.6L66.0 80.7L66.3 80.8L66.6 80.8L66.9 80.9L67.2 81.0L67.5 81.1L67.9 81.2L68.2 81.4L68.5 81.5L68.8 81.6L69.1 81.7L69.4 81.8L69.7 81.9L70.1 82.0L70.4 82.1L70.7 82.2L71.0 82.3L71.3 82.4L71.7 82.6L72.0 82.7L72.3 82.8L72.6 82.9L73.0 83.0L73.3 83.2L73.6 83.3L73.9 83.4L74.3 83.5L74.6 83.7L74.9 83.8L75.2 83.9L75.6 84.0L75.9 84.2L76.2 84.3L76.6 84.4L76.9 84.6L77.2 84.7L77.5 84.9L77.9 85.0L78.2 85.1L78.5 85.3L78.9 85.4L79.2 85.6L79.5 85.7L79.9 85.9L80.2 86.0L80.5 86.2L80.9 86.3L81.2 86.5L81.5 86.6L81.8 86.8L82.2 86.9L82.5 87.1L82.8 87.3L83.2 87.4L83.5 87.6L83.8 87.8L84.2 87.9L84.5 88.1L84.8 88.3L85.2 88.4L85.5 88.6L85.8 88.8L86.1 89.0L86.5 89.1L86.8 89.3L87.1 89.5L87.5 89.7L87.8 89.9L88.1 90.1L88.4 90.2L88.8 90.4L89.1 90.6L89.4 90.8L89.7 91.0L90.1 91.2L90.4 91.4L90.7 91.6L91.0 91.8L91.4 92.0L91.7 92.2L92.0 92.4L92.3 92.6L92.6 92.8L93.0 93.1L93.3 93.3L93.6 93.5L93.9 93.7L94.2 93.9L94.5 94.1L94.8 94.4L95.2 94.6L95.5 94.8L95.8 95.0L96.1 95.3L96.4 95.5L96.7 95.7L97.0 96.0L97.3 96.2L97.6 96.5L97.9 96.7L98.2 96.9L98.5 97.2L98.8 97.4L99.1 97.7L99.4 97.9L99.7 98.2L100.0 98.5L100.3 98.7L100.6 99.0L100.9 99.2L101.2 99.5L101.5 99.8L101.8 100.1L102.1 100.3L102.4 100.6L102.7 100.9L102.9 101.2L103.2 101.4L103.5 101.7L103.8 102.0L104.1 102.3L104.3 102.6L104.6 102.9L104.9 103.2L105.2 103.5L105.4 103.8L105.7 104.1L106.0 104.4L106.3 104.7L106.5 105.0L106.8 105.4L107.0 105.7L107.3 106.0L107.6 106.3L107.8 106.7L108.1 107.0L108.3 107.3L108.6 107.7L108.8 108.0L109.1 108.4L109.3 108.7L109.6 109.1L109.8 109.4L110.1 109.8L110.3 110.1L110.6 110.5L110.8 110.9L111.0 111.2L111.3 111.6L111.5 112.0L111.7 112.4L111.9 112.8L112.2 113.2L112.4 113.6L112.6 114.0L112.8 114.4L113.1 114.8L113.3 115.2L113.5 115.6L113.7 116.1L113.9 116.5L114.1 116.9L114.3 117.4L114.5 117.8L114.7 118.3L114.9 118.7L115.1 119.2L115.3 119.6L115.5 120.1L115.7 120.6L115.9 121.1L116.1 121.6L116.3 122.1L116.5 122.6L116.6 123.1L116.8 123.6L117.0 124.1L117.2 124.6L117.3 125.2L117.5 125.7L117.7 126.3L117.8 126.9L118.0 127.4L118.2 128.0L118.3 128.6L118.5 129.2L118.6 129.8L118.8 130.4L118.9 131.0L119.1 131.7L119.2 132.3L119.4 133.0L119.5 133.7L119.7 134.4L119.8 135.0L119.9 135.8L120.1 136.5L120.2 137.2L120.3 138.0L120.4 138.7L120.6 139.5L120.7 140.3L120.8 141.1L120.9 142.0L121.0 142.8L121.1 143.7L121.2 144.6L121.3 145.5L121.4 146.5L121.5 147.4L121.6 148.4L121.7 149.4L121.8 150.5L121.9 151.5L123.4 170.0" fill="none" stroke="#ff0000" stroke-width="1.6" stroke-dasharray="7.6 3.6 1.8 3.6" stroke-dashoffset="0.00" stroke-linejoin="round"/>
<path d="M123.4 170.0L124.5 151.6L124.6 150.4L124.6 149.3L124.7 148.2L124.8 147.2L124.9 146.2L125.0 145.2L125.1 144.2L125.2 143.3L125.3 142.4L125.4 141.6L125.5 140.7L125.6 139.9L125.7 139.1L125.8 138.3L125.9 137.5L126.0 136.8L126.1 136.1L126.2 135.4L126.3 134.7L126.5 134.0L126.6 133.3L126.7 132.7L126.8 132.0L127.0 131.4L127.1 130.8L127.2 130.2L127.4 129.6L127.5 129.1L127.7 128.5L127.8 128.0L128.0 127.4L128.1 126.9L128.3 126.4L128.4 125.9L128.6 125.4L128.7 124.9L128.9 124.4L129.1 123.9L129.2 123.5L129.4 123.0L129.6 122.6L129.7 122.1L129.9 121.7L130.1 121.3L130.3 120.9L130.5 120.5L130.6 120.1L130.8 119.7L131.0 119.3L131.2 118.9L131.4 118.5L131.6 118.2L131.8 117.8L132.0 117.4L132.2 117.1L132.4 116.7L132.6 116.4L132.8 116.1L133.0 115.7L133.2 115.4L133.4 115.1L133.7 114.8L133.9 114.5L134.1 114.2L134.3 113.9L134.5 113.6L134.8 113.3L135.0 113.0L135.2 112.7L135.4 112.4L135.7 112.2L135.9 111.9L136.1 111.6L136.4 111.4L136.6 111.1L136.9 110.9L137.1 110.6L137.3 110.4L137.6 110.2L137.8 109.9L138.1 109.7L138.3 109.5L138.6 109.2L138.8 109.0L139.1 108.8L139.4 108.6L139.6 108.4L139.9 108.2L140.1 108.0L140.4 107.8L140.7 107.6L140.9 107.4L141.2 107.2L141.5 107.0L141.7 106.8L142.0 106.7L142.3 106.5L142.6 106.3L142.8 106.1L143.1 106.0L143.4 105.8L143.7 105.6L144.0 105.5L144.2 105.3L144.5 105.2L144.8 105.0L145.1 104.9L145.4 104.7L145.7 104.6L146.0 104.5L146.3 104.3L146.6 104.2L146.9 104.1L147.2 103.9L147.5 103.8L147.8 103.7L148.0 103.6L148.3 103.4L148.7 103.3L149.0 103.2L149.3 103.1L149.6 103.0L149.9 102.9L150.2 102.8L150.5 102.7L150.8 102.6L151.1 102.5L151.4 102.4L151.7 102.3L152.0 102.2L152.3 102.2L152.7 102.1L153.0 102.0L153.3 101.9L153.6 101.8L153.9 101.8L154.2 101.7L154.5 101.6L154.9 101.6L155.2 101.5L155.5 101.4L155.8 101.4L156.1 101.3L156.5 101.3L156.8 101.2L157.1 101.2L157.4 101.1L157.8 101.1L158.1 101.0L158.4 101.0L158.7 100.9L159.0 100.9L159.4 100.9L159.7 100.8L160.0 100.8L160.3 100.8L160.7 100.7L161.0 100.7L161.3 100.7L161.7 100.7L162.0 100.7L162.3 100.6L162.6 100.6L163.0 100.6L163.3 100.6L163.6 100.6L164.0 100.6L164.3 100.6L164.6 100.6L164.9 100.6L165.3 100.6L165.6 100.6L165.9 100.6L166.2 100.6L166.6 100.6L166.9 100.6L167.2 100.7L167.6 100.7L167.9 100.7L168.2 100.7L168.5 100.7L168.9 100.8L169.2 100.8L169.5 100.8L169.9 100.9L170.2 100.9L170.5 100.9L170.8 101.0L171.2 101.0L171.5 101.0L171.8 101.1L172.1 101.1L172.4 101.2L172.8 101.2L173.1 101.3L173.4 101.3L173.7 101.4L174.1 101.5L174.4 101.5L174.7 101.6L175.0 101.7L175.3 101.7L175.7 101.8L176.0 101.9L176.3 101.9L176.6 102.0L176.9 102.1L177.2 102.2L177.5 102.3L177.9 102.3L178.2 102.4L178.5 102.5L178.8 102.6L179.1 102.7L179.4 102.8L179.7 102.9L180.0 103.0L180.3 103.1L180.6 103.2L180.9 103.3L181.2 103.4L181.5 103.6L181.9 103.7L182.2 103.8L182.4 103.9L182.7 104.0L183.0 104.2L183.3 104.3L183.6 104.4L183.9 104.5L184.2 104.7L184.5 104.8L184.8 105.0L185.1 105.1L185.4 105.2L185.7 105.4L185.9 105.5L186.2 105.7L186.5 105.8L186.8 106.0L187.1 106.2L187.4 106.3L187.6 106.5L187.9 106.7L188.2 106.8L188.5 107.0L188.7 107.2L189.0 107.4L189.3 107.6L189.5 107.7L189.8 107.9L190.1 108.1L190.3 108.3L190.6 108.5L190.8 108.7L191.1 108.9L191.4 109.1L191.6 109.3L191.9 109.6L192.1 109.8L192.4 110.0L192.6 110.2L192.9 110.4L193.1 110.7L193.3 110.9L193.6 111.1L193.8 111.4L194.1 111.6L194.3 111.9L194.5 112.1L194.8 112.4L195.0 112.6L195.2 112.9L195.4 113.2L195.7 113.5L195.9 113.7L196.1 114.0L196.3 114.3L196.5 114.6L196.8 114.9L197.0 115.2L197.2 115.5L197.4 115.8L197.6 116.1L197.8 116.4L198.0 116.7L198.2 117.1L198.4 117.4L198.6 117.7L198.8 118.1L199.0 118.4L199.2 118.8L199.4 119.1L199.6 119.5L199.7 119.9L199.9 120.3L200.1 120.6L200.3 121.0L200.5 121.4L200.6 121.8L200.8 122.3L201.0 122.7L201.1 123.1L201.3 123.5L201.5 124.0L201.6 124.4L201.8 124.9L201.9 125.4L202.1 125.8L202.2 126.3L202.4 126.8L202.5 127.3L202.7 127.8L202.8 128.3L203.0 128.9L203.1 129.4L203.2 130.0L203.4 130.5L203.5 131.1L203.6 131.7L203.7 132.3L203.9 132.9L204.0 133.6L204.1 134.2L204.2 134.9L204.3 135.6L204.4 136.3L206.8 154.5" fill="none" stroke="#ff0000" stroke-width="1.6" stroke-dasharray="7.6 3.6 1.8 3.6" stroke-dashoffset="9.73" stroke-linejoin="round"/>
<path d="M206.8 154.5L209.3 135.7L209.4 135.0L209.5 134.3L209.6 133.5L209.8 132.8L209.9 132.1L210.0 131.4L210.1 130.8L210.3 130.1L210.4 129.5L210.5 128.8L210.7 128.2L210.8 127.6L211.0 127.0L211.1 126.4L211.3 125.9L211.4 125.3L211.6 124.7L211.7 124.2L211.9 123.7L212.0 123.1L212.2 122.6L212.4 122.1L212.5 121.6L212.7 121.1L212.9 120.6L213.0 120.1L213.2 119.6L213.4 119.2L213.6 118.7L213.7 118.2L213.9 117.8L214.1 117.4L214.3 116.9L214.5 116.5L214.7 116.1L214.9 115.6L215.1 115.2L215.3 114.8L215.5 114.4L215.7 114.0L215.9 113.6L216.1 113.2L216.3 112.8L216.5 112.5L216.7 112.1L216.9 111.7L217.1 111.4L217.4 111.0L217.6 110.6L217.8 110.3L218.0 109.9L218.3 109.6L218.5 109.3L218.7 108.9L218.9 108.6L219.2 108.3L219.4 107.9L219.6 107.6L219.9 107.3L220.1 107.0L220.4 106.7L220.6 106.4L220.9 106.1L221.1 105.8L221.4 105.5L221.6 105.2L221.9 104.9L222.1 104.6L222.4 104.3L222.6 104.0L222.9 103.8L223.2 103.5L223.4 103.2L223.7 102.9L223.9 102.7L224.2 102.4L224.5 102.2L224.8 101.9L225.0 101.7L225.3 101.4L225.6 101.2L225.9 100.9L226.1 100.7L226.4 100.4L226.7 100.2L227.0 100.0L227.3 99.7L227.5 99.5L227.8 99.3L228.1 99.1L228.4 98.8L228.7 98.6L229.0 98.4L229.3 98.2L229.6 98.0L229.9 97.8L230.2 97.6L230.5 97.4L230.8 97.2L231.1 97.0L231.4 96.8L231.7 96.6L232.0 96.4L232.3 96.2L232.6 96.0L232.9 95.8L233.2 95.7L233.5 95.5L233.8 95.3L234.1 95.1L234.4 95.0L234.7 94.8L235.0 94.6L235.4 94.5L235.7 94.3L236.0 94.2L236.3 94.0L236.6 93.8L236.9 93.7L237.2 93.5L237.6 93.4L237.9 93.3L238.2 93.1L238.5 93.0L238.8 92.8L239.2 92.7L239.5 92.6L239.8 92.4L240.1 92.3L240.5 92.2L240.8 92.1L241.1 91.9L241.4 91.8L241.8 91.7L242.1 91.6L242.4 91.5L242.7 91.4L243.1 91.3L243.4 91.2L243.7 91.1L244.1 91.0L244.4 90.9L244.7 90.8L245.0 90.7L245.4 90.6L245.7 90.5L246.0 90.4L246.4 90.3L246.7 90.2L247.0 90.2L247.4 90.1L247.7 90.0L248.0 89.9L248.4 89.9L248.7 89.8L249.0 89.7L249.3 89.7L249.7 89.6L250.0 89.5L250.3 89.5L250.7 89.4L251.0 89.4L251.3 89.3L251.7 89.3L252.0 89.2L252.3 89.2L252.7 89.2L253.0 89.1L253.3 89.1L253.6 89.1L254.0 89.0L254.3 89.0L254.6 89.0L255.0 89.0L255.3 88.9L255.6 88.9L255.9 88.9L256.3 88.9L256.6 88.9L256.9 88.9L257.2 88.9L257.6 88.9L257.9 88.9L258.2 88.9L258.5 88.9L258.9 88.9L259.2 88.9L259.5 88.9L259.8 88.9L260.1 89.0L260.5 89.0L260.8 89.0L261.1 89.0L261.4 89.1L261.7 89.1L262.0 89.1L262.3 89.2L262.7 89.2L263.0 89.2L263.3 89.3L263.6 89.3L263.9 89.4L264.2 89.4L264.5 89.5L264.8 89.6L265.1 89.6L265.4 89.7L265.7 89.8L266.0 89.8L266.3 89.9L266.6 90.0L266.9 90.1L267.2 90.2L267.5 90.2L267.8 90.3L268.1 90.4L268.4 90.5L268.7 90.6L269.0 90.7L269.3 90.8L269.6 90.9L269.9 91.1L270.2 91.2L270.4 91.3L270.7 91.4L271.0 91.5L271.3 91.7L271.6 91.8L271.8 91.9L272.1 92.1L272.4 92.2L272.7 92.4L272.9 92.5L273.2 92.7L273.5 92.8L273.8 93.0L274.0 93.1L274.3 93.3L274.5 93.5L274.8 93.7L275.1 93.8L275.3 94.0L275.6 94.2L275.8 94.4L276.1 94.6L276.3 94.8L276.6 95.0L276.8 95.2L277.1 95.4L277.3 95.6L277.6 95.9L277.8 96.1L278.1 96.3L278.3 96.5L278.5 96.8L278.8 97.0L279.0 97.3L279.2 97.5L279.4 97.8L279.7 98.1L279.9 98.3L280.1 98.6L280.3 98.9L280.6 99.2L280.8 99.4L281.0 99.7L281.2 100.0L281.4 100.3L281.6 100.7L281.8 101.0L282.0 101.3L282.2 101.6L282.4 102.0L282.6 102.3L282.8 102.7L283.0 103.0L283.2 103.4L283.4 103.7L283.6 104.1L283.8 104.5L284.0 104.9L284.1 105.3L284.3 105.7L284.5 106.1L284.7 106.5L284.8 107.0L285.0 107.4L285.2 107.9L285.3 108.3L285.5 108.8L285.7 109.3L285.8 109.7L286.0 110.2L286.1 110.7L286.3 111.3L286.4 111.8L286.6 112.3L286.7 112.9L286.9 113.4L287.0 114.0L287.2 114.6L287.3 115.2L287.4 115.8L287.6 116.4L287.7 117.1L287.8 117.7L287.9 118.4L288.1 119.1L288.2 119.8L288.3 120.5L288.4 121.2L288.5 122.0L288.6 122.8L288.7 123.6L288.8 124.4L288.9 125.2L289.0 126.1L289.1 127.0L289.2 127.9L289.3 128.9L289.4 129.9L289.5 130.9L289.6 131.9L289.7 133.0L289.7 134.1L289.8 135.3L289.9 136.5L290.0 137.7L290.0 139.0L290.1 140.4L290.2 141.8L290.2 143.2L290.3 144.8L290.3 146.4L290.4 148.1L290.4 149.8L290.5 151.7L290.5 153.7L290.6 155.8L290.6 158.0L290.6 160.4L290.7 163.0L290.7 165.8L290.7 168.8L290.8 172.2L290.8 175.8L290.8 180.0L290.8 184.6L290.9 190.0L290.9 196.4L290.9 204.2L290.9 225.0" fill="none" stroke="#ff0000" stroke-width="1.6" stroke-dasharray="7.6 3.6 1.8 3.6" stroke-dashoffset="12.90" stroke-linejoin="round"/>
<path d="M290.9 225.0L290.9 185.7L290.9 170.2L290.9 161.2L291.0 154.7L291.0 149.7L291.0 145.6L291.1 142.1L291.1 139.1L291.2 136.4L291.3 134.0L291.4 131.8L291.5 129.8L291.6 127.9L291.7 126.1L291.8 124.5L291.9 122.9L292.0 121.5L292.2 120.1L292.3 118.7L292.5 117.4L292.6 116.2L292.8 115.0L293.0 113.9L293.1 112.7L293.3 111.7L293.5 110.6L293.7 109.6L293.9 108.6L294.2 107.6L294.4 106.6L294.6 105.7L294.9 104.8L295.1 103.9L295.4 103.0L295.6 102.1L295.9 101.2L296.2 100.4L296.5 99.5L296.8 98.7L297.1 97.9L297.4 97.1L297.7 96.3L298.0 95.5L298.4 94.7L298.7 93.9L299.1 93.2L299.4 92.4L299.8 91.6L300.1 90.9L300.5 90.2L300.9 89.4L301.3 88.7L301.7 88.0L302.1 87.2L302.5 86.5L302.9 85.8L303.3 85.1L303.8 84.4L304.2 83.7L304.7 83.0L305.1 82.3L305.6 81.7L306.0 81.0L306.5 80.3L307.0 79.6L307.5 79.0L308.0 78.3L308.5 77.7L309.0 77.0L309.5 76.4L310.0 75.7L310.6 75.1L311.1 74.4L311.6 73.8L312.2 73.2L312.7 72.6L313.3 71.9L313.9 71.3L314.4 70.7L315.0 70.1L315.6 69.5L316.2 68.9L316.8 68.3L317.4 67.7L318.0 67.1L318.6 66.6L319.2 66.0L319.9 65.4L320.5 64.8L321.1 64.3L321.8 63.7L322.4 63.1L323.1 62.6L323.8 62.0L324.4 61.5L325.1 60.9L325.8 60.4L326.5 59.9L327.2 59.3L327.9 58.8L328.6 58.3L329.3 57.8L330.0 57.3L330.7 56.8L331.4 56.2L332.2 55.7L332.9 55.2L333.7 54.7L334.4 54.3L335.2 53.8L335.9 53.3L336.7 52.8L337.4 52.3L338.2 51.8L339.0 51.4L339.8 50.9L340.6 50.4L341.3 50.0L342.1 49.5L342.9 49.1L343.7 48.6L344.5 48.2L345.4 47.7L346.2 47.3L347.0 46.8L347.8 46.4L348.7 46.0L349.5 45.5L350.3 45.1L351.2 44.7L352.0 44.3L352.9 43.8L353.7 43.4L354.6 43.0L355.4 42.6L356.3 42.2L357.2 41.8L358.1 41.4L358.9 41.0L359.8 40.6L360.7 40.2L361.6 39.8L362.5 39.4L363.4 39.0L364.3 38.6L365.2 38.2L366.1 37.9L367.0 37.5L367.9 37.1L368.8 36.7L369.7 36.3L370.6 36.0L371.6 35.6L372.5 35.2L373.4 34.8L374.4 34.5L375.3 34.1L376.2 33.7L377.2 33.4L378.1 33.0L379.0 32.7L380.0 32.3L380.9 32.0L381.9 31.6L382.8 31.2L383.8 30.9L384.7 30.5L385.7 30.2L386.7 29.8L387.6 29.5L388.6 29.2L389.6 28.8L390.5 28.5L391.5 28.1L392.5 27.8L393.4 27.5L394.4 27.1L395.4 26.8L396.4 26.5L397.3 26.2L398.3 25.8L399.3 25.5L400.3 25.2L401.3 24.9L402.2 24.5L403.2 24.2L404.2 23.9L405.2 23.6L406.2 23.3L407.2 23.0L408.1 22.7L409.1 22.4L410.1 22.1L411.1 21.8L412.1 21.5L413.1 21.2L414.1 20.9L415.1 20.6L416.1 20.3L417.0 20.0L418.0 19.7L419.0 19.5L420.0 19.2L421.0 18.9L422.0 18.6L423.0 18.4L424.0 18.1L425.0 17.9L425.9 17.6L426.9 17.3L427.9 17.1L428.9 16.8L429.9 16.6L430.9 16.4L431.8 16.1L432.8 15.9L433.8 15.6L434.8 15.4L435.8 15.2L436.7 15.0L437.7 14.8L438.7 14.5L439.7 14.3L440.6 14.1L441.6 13.9L442.6 13.7L443.5 13.5L444.5 13.3L445.5 13.2L446.4 13.0L447.4 12.8L448.4 12.6L449.3 12.5L450.3 12.3L451.2 12.1L452.2 12.0L453.1 11.8L454.1 11.7L455.0 11.5L455.9 11.4L456.9 11.3L457.8 11.1L458.7 11.0L459.7 10.9L460.6 10.8L461.5 10.7L462.5 10.5L463.4 10.4L464.3 10.3L465.2 10.3L466.1 10.2L467.0 10.1L467.9 10.0L468.8 9.9L469.7 9.9L470.6 9.8L471.5 9.7L472.4 9.7L473.3 9.6L474.2 9.6L475.0 9.5L475.9 9.5L476.8 9.5L477.7 9.4L478.5 9.4L479.4 9.4L480.2 9.4L481.1 9.4L481.9 9.4L482.8 9.4L483.6 9.4L484.4 9.4L485.3 9.4L486.1 9.4L486.9 9.4L487.7 9.4L488.6 9.5L489.4 9.5L490.2 9.5L491.0 9.6L491.8 9.6L492.5 9.7L493.3 9.7L494.1 9.8L494.9 9.9L495.7 9.9L496.4 10.0L497.2 10.1L497.9 10.2L498.7 10.3L499.4 10.4L500.2 10.5L500.9 10.6L501.7 10.7L502.4 10.8L503.1 10.9L503.8 11.0L504.5 11.1L505.2 11.2L505.9 11.4L506.6 11.5L507.3 11.7L508.0 11.8L508.7 12.0L509.3 12.1L510.0 12.3L510.7 12.4L511.3 12.6L512.0 12.8L512.6 13.0L513.2 13.1L513.9 13.3L514.5 13.5L515.1 13.7L515.7 13.9L516.3 14.1L516.9 14.4L517.5 14.6L518.1 14.8L518.7 15.0L519.2 15.3L519.8 15.5L520.4 15.8L520.9 16.0L521.5 16.3L522.0 16.6L522.5 16.8L523.1 17.1L523.6 17.4L524.1 17.7L524.6 18.0L525.1 18.3L525.6 18.7L526.1 19.0L526.6 19.3L527.1 19.7L527.5 20.1L528.0 20.4L528.4 20.8L528.9 21.2L529.3 21.6L529.8 22.0L530.2 22.4L530.6 22.8L531.0 23.3L531.4 23.7L531.8 24.2L532.2 24.7L532.6 25.2L533.0 25.7L533.3 26.2L533.7 26.8L534.0 27.3L534.4 27.9L534.7 28.5L535.1 29.1L535.4 29.7L535.7 30.4L536.0 31.0L536.3 31.7L536.6 32.4L536.9 33.2L537.2 33.9L537.5 34.7L537.7 35.5L538.0 36.4L538.2 37.3L538.5 38.2L538.7 39.1L538.9 40.1L539.2 41.1L539.4 42.2L539.6 43.3L539.8 44.5L540.0 45.7L540.1 47.0L540.3 48.3L540.5 49.7L540.6 51.2L540.8 52.8L540.9 54.4L541.1 56.2L541.2 58.0L541.3 60.0L541.4 62.2L541.5 64.5L541.6 67.0L541.7 69.7L541.8 72.7L541.9 76.0L542.0 79.7L542.0 83.9L542.1 88.7L542.1 94.5L542.1 101.5L542.2 110.6L542.2 123.5L542.2 145.4L542.2 203.4L542.2 330.0" fill="none" stroke="#ff0000" stroke-width="1.6" stroke-dasharray="7.6 3.6 1.8 3.6" stroke-dashoffset="10.64" stroke-linejoin="round"/>
<rect x="42.5" y="480.6" width="447.9" height="16.2" fill="#fff" stroke="#1a1a1a" stroke-width="1"/>
<path d="M45.4 487.8H71.4" fill="none" stroke="#a02838" stroke-width="1.9"/>
<text x="76.3" y="493.3" font-family="Liberation Serif, Times New Roman, serif" stroke="#111" stroke-width="0.35" font-size="12.4" fill="#111">Lagrange</text>
<path d="M127.0 487.8H153.0" fill="none" stroke="#000" stroke-width="2"/>
<text x="158.9" y="493.3" font-family="Liberation Serif, Times New Roman, serif" stroke="#111" stroke-width="0.35" font-size="12.4" fill="#111">Leal</text>
<path d="M184.9 487.8H211.0" fill="none" stroke="#000" stroke-width="1.7" stroke-dasharray="11.5 11.5"/>
<text x="216.7" y="493.3" font-family="Liberation Serif, Times New Roman, serif" stroke="#111" stroke-width="0.35" font-size="12.4" fill="#111">Thiele</text>
<path d="M251.8 487.8H277.2" fill="none" stroke="#0000ff" stroke-width="2" stroke-dasharray="19 4"/>
<text x="282.2" y="493.3" font-family="Liberation Serif, Times New Roman, serif" stroke="#111" stroke-width="0.35" font-size="12.4" fill="#111">Splines</text>
<path d="M323.4 487.8H349.4" fill="none" stroke="#ff0000" stroke-width="3"/>
<text x="354.0" y="493.3" font-family="Liberation Serif, Times New Roman, serif" stroke="#111" stroke-width="0.35" font-size="12.4" fill="#111">MLIP</text>
<path d="M388.7 487.8H413.4" fill="none" stroke="#ff0000" stroke-width="2" stroke-dasharray="9.5 3.5 1.8 3"/>
<text x="419.6" y="493.3" font-family="Liberation Serif, Times New Roman, serif" stroke="#111" stroke-width="0.35" font-size="12.4" fill="#111">Least Squares</text>
</svg>
</body></html>
